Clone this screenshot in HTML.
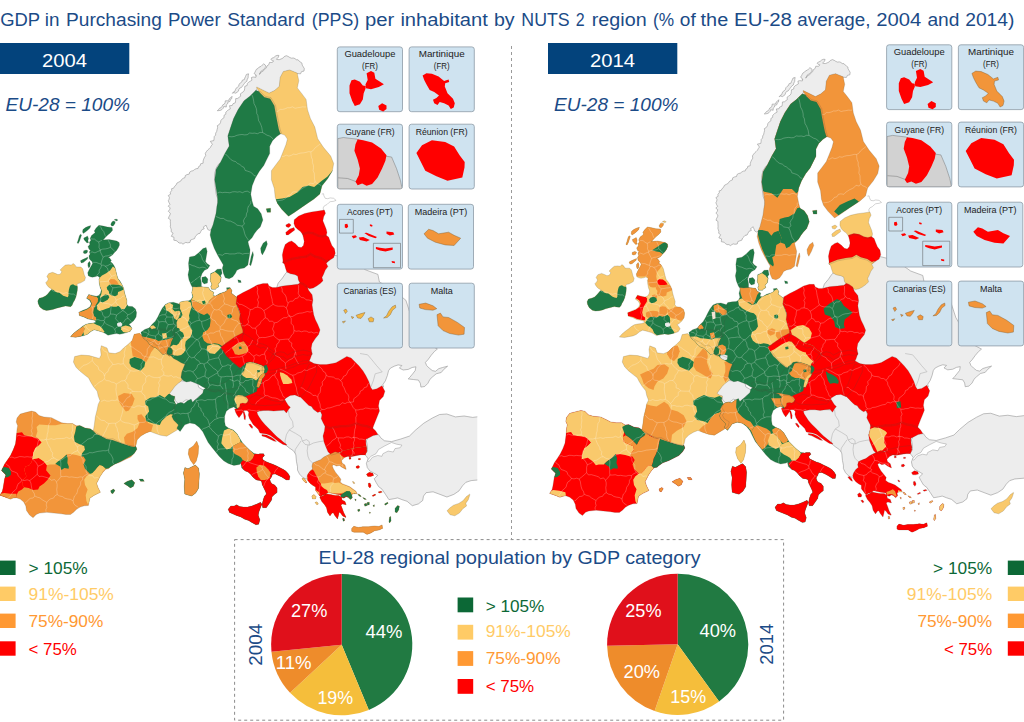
<!DOCTYPE html>
<html><head><meta charset="utf-8"><title>GDP PPS per inhabitant by NUTS 2 region</title>
<style>html,body{margin:0;padding:0;background:#fff;}body{width:1024px;height:722px;overflow:hidden;}svg{display:block;font-family:"Liberation Sans",sans-serif;}</style>
</head><body>
<svg width="1024" height="722" viewBox="0 0 1024 722">
<rect width="1024" height="722" fill="#fff"/>
<text x="0.2" y="26.1" font-size="19.1" fill="#1b4b87" text-anchor="start" textLength="39.9" lengthAdjust="spacingAndGlyphs">GDP</text>
<text x="44.7" y="26.1" font-size="19.1" fill="#1b4b87" text-anchor="start" textLength="14.7" lengthAdjust="spacingAndGlyphs">in</text>
<text x="66.0" y="26.1" font-size="19.1" fill="#1b4b87" text-anchor="start" textLength="95.8" lengthAdjust="spacingAndGlyphs">Purchasing</text>
<text x="167.9" y="26.1" font-size="19.1" fill="#1b4b87" text-anchor="start" textLength="52.7" lengthAdjust="spacingAndGlyphs">Power</text>
<text x="227.3" y="26.1" font-size="19.1" fill="#1b4b87" text-anchor="start" textLength="77.5" lengthAdjust="spacingAndGlyphs">Standard</text>
<text x="311.8" y="26.1" font-size="19.1" fill="#1b4b87" text-anchor="start" textLength="47.4" lengthAdjust="spacingAndGlyphs">(PPS)</text>
<text x="365.0" y="26.1" font-size="19.1" fill="#1b4b87" text-anchor="start" textLength="29.3" lengthAdjust="spacingAndGlyphs">per</text>
<text x="400.4" y="26.1" font-size="19.1" fill="#1b4b87" text-anchor="start" textLength="87.4" lengthAdjust="spacingAndGlyphs">inhabitant</text>
<text x="493.9" y="26.1" font-size="19.1" fill="#1b4b87" text-anchor="start" textLength="20.7" lengthAdjust="spacingAndGlyphs">by</text>
<text x="521.3" y="26.1" font-size="19.1" fill="#1b4b87" text-anchor="start" textLength="48.4" lengthAdjust="spacingAndGlyphs">NUTS</text>
<text x="575.8" y="26.1" font-size="19.1" fill="#1b4b87" text-anchor="start" textLength="8.9" lengthAdjust="spacingAndGlyphs">2</text>
<text x="591.8" y="26.1" font-size="19.1" fill="#1b4b87" text-anchor="start" textLength="54.9" lengthAdjust="spacingAndGlyphs">region</text>
<text x="652.9" y="26.1" font-size="19.1" fill="#1b4b87" text-anchor="start" textLength="21.1" lengthAdjust="spacingAndGlyphs">(%</text>
<text x="679.8" y="26.1" font-size="19.1" fill="#1b4b87" text-anchor="start" textLength="15.9" lengthAdjust="spacingAndGlyphs">of</text>
<text x="700.6" y="26.1" font-size="19.1" fill="#1b4b87" text-anchor="start" textLength="27.6" lengthAdjust="spacingAndGlyphs">the</text>
<text x="734.0" y="26.1" font-size="19.1" fill="#1b4b87" text-anchor="start" textLength="58.0" lengthAdjust="spacingAndGlyphs">EU-28</text>
<text x="797.3" y="26.1" font-size="19.1" fill="#1b4b87" text-anchor="start" textLength="73.2" lengthAdjust="spacingAndGlyphs">average,</text>
<text x="876.2" y="26.1" font-size="19.1" fill="#1b4b87" text-anchor="start" textLength="45.0" lengthAdjust="spacingAndGlyphs">2004</text>
<text x="927.4" y="26.1" font-size="19.1" fill="#1b4b87" text-anchor="start" textLength="32.0" lengthAdjust="spacingAndGlyphs">and</text>
<text x="965.2" y="26.1" font-size="19.1" fill="#1b4b87" text-anchor="start" textLength="49.3" lengthAdjust="spacingAndGlyphs">2014)</text>
<line x1="511.5" y1="46" x2="511.5" y2="539" stroke="#9a9a9a" stroke-width="1" stroke-dasharray="3,3"/>
<rect x="0" y="43" width="129.3" height="31" fill="#03437c"/>
<text x="64.6" y="66.8" font-size="18.3" fill="#fff" text-anchor="middle" textLength="45" lengthAdjust="spacingAndGlyphs">2004</text>
<text x="5.5" y="110.8" font-size="18.0" fill="#1b4b87" text-anchor="start" textLength="124.5" lengthAdjust="spacingAndGlyphs" font-style="italic">EU-28 = 100%</text>
<rect x="548" y="43" width="129.3" height="31" fill="#03437c"/>
<text x="612.6" y="66.8" font-size="18.3" fill="#fff" text-anchor="middle" textLength="45" lengthAdjust="spacingAndGlyphs">2014</text>
<text x="554" y="110.8" font-size="18.0" fill="#1b4b87" text-anchor="start" textLength="124.5" lengthAdjust="spacingAndGlyphs" font-style="italic">EU-28 = 100%</text>
<defs>
<path id="o-ie" d="M60.1,269.9L62.8,267.2L65.3,265.1L68.5,264.7L71.4,265.1L73.0,263.4L75.1,264.9L75.8,266.7L77.8,267.0L80.9,267.0L82.7,268.8L83.6,272.1L84.3,275.0L85.5,277.4L84.6,280.6L82.5,281.8L80.1,283.1L78.0,283.4L77.1,284.6L77.5,287.4L77.3,290.6L76.7,293.6L76.0,296.8L74.7,299.9L73.2,302.6L72.1,305.2L70.6,306.7L67.6,306.3L65.5,305.9L62.5,306.7L59.5,307.4L56.5,308.2L53.5,309.3L50.0,310.1L46.4,310.5L43.1,309.6L39.8,306.9L38.2,303.6L37.8,301.0L39.2,298.3L42.4,297.5L45.4,296.1L47.5,294.3L49.7,291.6L51.4,289.6L52.1,289.3L51.1,288.7L48.7,287.2L46.7,284.7L45.7,282.7L47.4,280.9L48.4,279.0L46.9,276.4L48.7,273.6L52.5,272.3L55.8,273.6L57.9,274.6L59.8,274.3L61.2,273.0L61.7,271.6Z"/><clipPath id="c-ie"><use href="#o-ie"/></clipPath>
<path id="o-gb" d="M116.1,219.0L118.0,220.0L116.6,221.0L114.1,219.7ZM114.9,223.8L113.2,225.9L111.6,225.9L110.7,224.2L112.0,221.7L113.6,220.9L115.3,221.7ZM85.4,232.1L83.3,233.4L82.5,232.1L82.9,229.6L85.4,227.6L88.3,226.3L90.8,225.6L90.0,228.0L87.9,230.1ZM80.6,238.0L79.6,240.9L78.3,243.4L77.1,242.9L78.3,239.6L79.3,235.9L80.4,234.2L81.6,235.0ZM87.0,242.9L85.4,241.3L84.1,239.8L83.7,238.0L85.8,237.0L87.5,235.9L88.5,238.4L87.9,240.9L88.7,242.5ZM87.0,252.9L85.0,253.7L83.3,252.9L83.7,250.8L86.2,250.0L87.9,250.8ZM85.4,260.8L83.3,262.5L81.2,262.9L80.4,260.8L82.5,259.6L85.4,258.3L87.9,257.1L87.5,259.1ZM90.4,263.3L90.0,266.6L88.7,267.9L87.9,265.8L87.9,263.3L89.5,261.2ZM93.7,233.8L95.1,232.4L94.2,230.9L96.1,228.0L98.9,225.3L103.4,226.1L107.5,227.0L112.1,227.4L112.6,230.3L110.3,232.9L107.8,235.0L105.3,237.5L103.8,239.2L103.0,240.1L104.8,239.8L109.1,239.4L113.3,240.3L116.8,241.1L119.2,242.5L119.5,245.1L118.3,247.8L116.6,250.4L114.5,252.5L112.4,255.1L109.8,256.7L108.2,257.2L109.5,257.8L111.4,260.4L110.4,261.9L112.0,262.8L113.7,265.1L115.1,267.7L116.7,274.3L117.8,278.2L120.3,281.5L122.2,284.9L123.7,288.3L124.5,292.5L125.7,296.6L127.0,300.8L126.7,304.1L128.4,306.2L132.4,306.5L135.5,308.9L136.6,312.5L136.1,316.9L133.9,320.5L131.0,323.1L129.0,324.3L130.2,325.5L132.1,328.4L130.1,331.4L126.6,332.6L123.2,333.6L119.8,334.3L116.4,333.6L112.4,334.3L108.0,335.3L105.3,333.5L102.9,332.3L100.4,331.5L97.2,330.6L94.1,329.8L91.0,331.4L87.6,334.2L84.2,335.6L80.0,336.4L75.7,337.3L70.5,336.8L70.5,336.7L73.1,333.8L76.1,331.2L79.5,328.7L82.6,326.2L85.5,324.4L88.9,323.6L93.1,323.1L95.7,322.2L95.2,320.6L92.2,319.8L88.0,319.0L83.8,317.0L79.4,315.6L78.8,312.2L83.0,310.3L87.0,308.8L90.2,306.4L91.2,303.4L89.7,300.5L86.5,298.3L88.7,294.4L92.4,295.4L96.5,296.2L98.7,295.5L100.5,293.2L101.2,290.1L100.0,287.0L99.2,282.8L98.9,279.2L99.8,277.7L98.7,276.7L97.4,276.0L95.0,276.8L92.4,277.2L90.2,276.8L88.2,275.8L87.7,272.8L89.0,270.1L90.3,267.6L91.5,265.5L92.6,263.3L91.9,261.5L90.8,260.4L89.4,259.0L88.9,256.1L90.1,254.1L89.3,252.0L90.4,250.2L89.0,249.2L88.0,246.6L89.8,244.4L89.4,242.3L90.9,240.3L90.1,238.4L91.5,235.5Z"/><clipPath id="c-gb"><use href="#o-gb"/></clipPath>
<path id="o-es" d="M17.7,425.7L16.2,422.1L17.0,418.0L20.2,414.1L25.4,412.6L31.5,411.1L35.5,412.0L39.1,415.6L44.0,417.0L51.5,417.7L57.4,420.7L61.7,422.8L67.4,423.6L72.7,423.6L76.3,425.8L79.9,425.5L85.2,428.0L90.3,428.7L97.0,433.2L102.8,436.9L108.5,438.9L112.9,438.7L117.5,441.2L121.8,443.3L126.2,444.8L131.9,446.0L135.9,446.3L136.9,449.2L134.5,453.1L130.8,456.9L126.3,459.1L120.3,462.1L114.6,464.2L110.3,467.1L108.7,468.6L105.8,469.3L103.0,472.2L100.1,476.5L97.9,480.9L96.6,483.3L98.0,487.4L100.4,492.3L94.0,495.4L89.9,498.2L88.4,505.5L84.3,505.8L80.1,507.1L76.6,509.3L73.6,512.2L70.5,514.5L65.9,514.5L61.4,513.8L54.1,513.1L46.9,512.3L39.6,513.1L36.2,514.4L33.1,517.7L29.6,515.1L26.5,510.5L25.8,506.1L23.7,501.9L20.2,499.1L16.3,497.7L13.3,498.1L10.3,499.2L4.2,496.7L-0.2,495.2L2.3,491.3L3.1,487.8L3.8,483.4L4.5,479.0L5.9,474.9L4.0,472.9L1.5,470.4L3.2,467.1L4.6,464.1L7.6,459.8L10.5,455.4L13.3,449.6L15.5,443.8L16.2,438.0L16.7,432.9L17.0,429.2ZM144.3,481.3L140.6,481.3L139.2,479.1L142.8,479.1ZM130.4,487.9L127.4,485.7L123.8,483.5L127.4,481.3L131.8,479.8L134.8,482.8L133.3,486.4ZM112.8,493.7L111.3,493.0L110.6,490.8L113.5,489.1L115.0,490.5Z"/><clipPath id="c-es"><use href="#o-es"/></clipPath>
<path id="o-fr" d="M132.2,340.4L134.1,334.3L139.7,333.3L143.7,337.3L148.5,340.2L153.3,343.1L157.0,345.8L161.0,344.8L164.2,348.0L166.1,351.9L167.9,353.6L172.6,354.6L177.4,356.6L181.4,358.6L186.7,361.7L184.6,368.0L182.7,374.7L181.7,380.7L177.6,383.8L174.8,386.6L171.9,390.5L169.4,393.8L171.7,395.4L175.0,396.5L174.0,400.6L176.0,404.6L174.1,408.4L177.0,412.3L175.0,416.2L176.8,419.7L181.8,422.7L180.7,427.2L176.6,430.3L171.7,433.2L166.7,436.2L160.7,435.3L154.8,433.3L150.1,431.4L145.6,433.2L140.8,436.1L137.2,439.8L136.2,444.5L134.9,447.0L129.6,445.9L123.8,444.0L117.9,442.0L112.2,440.1L106.3,439.1L101.4,436.1L96.5,434.2L93.3,431.0L94.3,424.9L95.3,417.1L97.2,409.4L98.2,404.4L100.0,400.7L98.2,396.1L97.2,391.3L93.4,386.5L90.5,381.7L88.6,377.9L84.8,375.1L79.9,371.1L76.0,367.2L73.4,362.1L74.6,356.6L81.3,355.0L89.2,355.6L96.1,357.5L99.4,358.4L101.1,355.1L100.5,349.4L101.3,345.7L107.0,347.9L108.8,352.8L115.1,353.6L119.8,351.8L123.6,348.0L128.4,344.1ZM188.3,454.1L188.9,448.9L193.3,445.9L196.7,441.2L196.8,441.2L198.6,446.2L198.2,454.1L196.3,461.1L193.7,464.7L190.3,460.1Z"/><clipPath id="c-fr"><use href="#o-fr"/></clipPath>
<path id="o-de" d="M192.6,285.1L198.3,286.1L203.2,286.9L208.5,287.4L210.2,290.3L213.8,292.2L213.0,295.4L215.5,296.0L219.6,293.5L224.6,291.9L227.0,290.5L226.5,287.8L230.0,287.4L232.1,290.7L231.3,293.1L235.1,296.1L237.7,297.9L238.7,300.8L237.0,304.9L238.7,309.7L240.3,314.7L242.0,319.8L242.8,324.8L244.5,329.9L243.5,334.3L240.8,337.0L236.6,338.7L226.7,343.7L222.7,346.1L222.1,347.3L224.4,351.2L226.9,354.4L230.1,358.6L234.3,362.7L238.5,366.0L241.7,368.4L244.7,370.4L242.7,374.3L240.4,376.5L241.9,379.6L243.7,384.1L240.0,387.0L233.2,388.7L226.5,389.5L220.0,390.3L215.7,392.0L211.3,391.2L207.8,389.4L202.8,386.9L198.7,384.4L194.6,382.8L190.6,381.2L186.4,382.0L182.8,380.3L180.9,377.4L181.8,372.1L183.4,367.9L184.9,364.3L181.2,362.8L177.1,360.3L173.6,358.6L171.2,356.1L168.1,354.4L166.8,350.7L168.0,347.1L169.3,344.6L170.1,341.3L171.9,337.9L173.5,335.4L174.6,333.1L174.6,330.0L173.9,326.7L173.6,322.3L174.7,319.3L176.4,316.6L177.9,313.2L177.6,309.9L178.4,304.7L180.3,301.9L184.8,301.0L188.8,300.7L191.1,299.6L192.6,296.5L191.7,292.5L192.6,289.0Z"/><clipPath id="c-de"><use href="#o-de"/></clipPath>
<path id="o-nl" d="M165.3,304.4L168.9,302.7L173.3,302.3L177.6,303.5L180.1,304.5L179.6,309.9L180.5,313.3L179.0,317.2L177.4,319.9L176.5,322.5L176.8,326.5L177.5,329.9L176.8,333.4L175.3,336.3L173.5,336.3L172.6,332.6L171.2,330.4L169.1,329.6L164.9,330.5L160.7,330.1L157.4,330.5L154.1,329.6L151.4,330.6L149.1,328.3L151.9,324.5L155.3,321.2L157.8,317.1L160.2,312.1L162.4,308.0Z"/><clipPath id="c-nl"><use href="#o-nl"/></clipPath>
<path id="o-be" d="M141.9,335.9L140.9,332.2L144.7,329.4L150.1,327.5L151.8,329.2L154.1,328.4L157.4,329.3L160.7,328.9L164.9,329.3L169.1,328.4L172.0,329.4L173.8,332.2L174.6,335.8L172.9,338.5L171.3,341.7L170.5,345.0L169.3,347.2L170.9,347.8L173.0,350.7L172.2,354.5L169.9,355.4L170.1,355.8L169.7,356.2L166.3,354.0L165.7,353.8L163.0,354.7L160.3,351.9L157.9,349.5L155.5,347.8L153.0,347.0L149.5,344.4L147.0,341.1L143.7,338.6Z"/><clipPath id="c-be"><use href="#o-be"/></clipPath>
<path id="o-se" d="M249.8,96.2L255.8,90.2L260.7,91.9L265.0,96.2L271.0,97.7L275.5,105.3L277.0,114.1L278.4,121.4L279.9,128.5L281.4,133.3L276.8,136.5L272.5,140.8L269.7,146.3L269.7,153.6L266.7,159.6L263.8,165.4L259.4,171.2L255.1,178.5L252.2,185.7L250.8,194.2L252.2,201.4L253.6,206.3L257.7,208.7L261.2,213.8L262.9,220.0L260.3,226.9L257.0,230.3L254.5,233.6L252.0,237.8L248.0,241.8L248.7,244.7L250.1,249.8L249.6,255.0L248.7,260.0L247.9,265.1L244.3,267.9L240.0,268.8L236.9,270.3L235.3,273.5L232.7,277.0L229.1,278.7L225.3,277.8L223.4,273.4L222.3,268.2L223.3,264.9L221.0,261.0L217.7,255.2L214.3,248.4L211.8,241.8L210.1,234.9L211.0,229.7L213.0,224.7L214.3,219.8L216.0,213.2L216.8,206.6L217.6,202.8L217.6,198.6L216.1,188.5L214.7,179.7L216.1,169.3L220.6,161.9L225.0,153.2L229.2,146.1L227.8,135.9L230.7,127.1L233.6,118.4L238.1,109.5L244.0,100.7ZM262.4,254.9L261.1,252.4L260.6,248.2L263.1,243.2L266.4,240.7L267.4,244.1L265.1,249.9ZM252.1,261.5L250.8,265.8L249.5,264.8L251.1,256.5L252.8,251.5L253.5,254.9Z"/><clipPath id="c-se"><use href="#o-se"/></clipPath>
<path id="o-fi" d="M256.4,87.4L256.8,87.0L263.6,90.4L269.1,93.1L274.6,90.4L279.3,86.3L280.1,77.6L283.3,71.5L289.5,69.9L297.2,73.1L298.8,80.7L297.3,87.9L301.6,93.4L306.1,99.4L307.5,109.7L310.4,118.4L314.8,127.1L317.7,138.7L323.4,147.3L330.7,156.1L333.7,163.6L332.3,171.1L327.8,178.5L322.0,185.8L319.9,193.9L314.0,199.1L308.1,202.9L302.3,206.9L294.7,212.2L288.5,216.2L281.7,209.2L277.3,203.2L275.2,197.2L274.3,188.5L271.4,179.8L271.4,170.7L275.9,164.7L280.2,159.0L283.1,151.8L286.0,144.5L287.4,139.0L284.7,135.1L280.2,133.6L278.7,128.9L277.2,121.6L275.8,114.3L274.3,105.7L270.2,98.7L264.4,97.2L259.9,92.8ZM267.1,212.2L266.2,208.8L270.6,208.2L270.6,212.2Z"/><clipPath id="c-fi"><use href="#o-fi"/></clipPath>
<path id="o-dk" d="M189.0,269.8L188.5,263.2L189.5,256.9L194.6,255.9L198.7,252.8L203.0,248.5L206.1,247.4L207.2,251.5L206.3,256.6L205.5,261.4L207.0,263.6L209.9,265.5L207.8,268.7L204.5,270.3L202.1,273.5L200.5,278.1L201.4,283.0L201.4,286.6L196.6,287.1L192.0,286.7L191.1,285.1L189.0,280.0L188.0,274.8ZM210.1,280.7L210.6,277.3L210.6,273.6L214.6,271.8L217.1,269.2L221.2,268.9L222.1,273.3L220.6,275.7L221.3,277.2L220.5,281.8L218.1,284.2L218.9,286.8L216.4,288.1L215.7,289.3L211.6,289.3L211.2,287.8L210.9,287.7L211.0,287.2L210.7,286.1L211.2,286.2L211.8,284.1ZM204.1,284.0L201.9,281.5L201.9,277.3L205.7,276.5L207.9,279.0L207.4,283.1ZM240.7,280.6L241.2,282.5L238.5,282.5L237.8,279.8Z"/><clipPath id="c-dk"><use href="#o-dk"/></clipPath>
<path id="o-ee" d="M293.9,223.4L294.2,219.7L298.7,216.1L304.6,213.5L311.4,211.9L318.0,211.0L324.3,210.1L325.5,213.3L323.7,216.8L322.9,220.7L324.5,224.7L326.2,228.9L327.0,232.4L326.1,236.2L322.3,237.2L317.9,236.3L312.9,233.9L308.1,233.0L302.9,234.8L300.2,231.2L297.8,229.6L295.2,226.9ZM289.0,227.4L286.5,226.9L285.7,224.9L289.0,223.3L291.2,224.9ZM288.2,234.9L286.2,234.9L285.7,232.4L289.8,229.1L294.0,227.4L294.8,229.9L291.5,232.4Z"/><clipPath id="c-ee"><use href="#o-ee"/></clipPath>
<path id="o-lv" d="M302.4,233.7L308.1,231.8L313.3,232.7L318.3,235.1L322.3,236.0L325.7,235.0L328.6,237.0L330.3,241.4L331.9,245.4L334.5,248.7L335.3,253.3L333.6,257.8L326.4,262.2L321.2,258.8L314.6,257.1L310.6,254.7L306.7,257.1L299.9,258.0L291.7,259.6L282.9,263.2L282.9,259.9L282.3,254.9L283.4,249.7L285.2,244.5L288.7,241.9L291.6,240.9L295.2,243.6L298.5,246.9L301.3,247.5L303.4,245.4L304.2,241.6L303.4,237.5Z"/><clipPath id="c-lv"><use href="#o-lv"/></clipPath>
<path id="o-lt" d="M282.5,262.1L291.3,258.4L299.7,256.8L306.3,255.9L310.6,253.3L315.0,255.9L321.6,257.6L326.4,260.8L328.9,259.7L329.3,260.3L326.3,263.3L327.9,266.6L325.3,270.1L323.6,274.3L322.0,277.4L323.0,280.8L320.2,283.6L316.7,286.1L313.3,287.9L309.7,288.7L306.2,287.0L302.8,284.5L300.2,283.6L298.4,280.0L297.7,276.0L294.6,274.6L290.5,273.8L286.8,271.9L285.6,268.4L284.4,264.3Z"/><clipPath id="c-lt"><use href="#o-lt"/></clipPath>
<path id="o-pl" d="M236.9,296.1L243.0,292.6L249.6,289.3L257.2,285.0L263.1,283.4L267.8,283.4L269.0,286.0L272.5,287.5L276.4,287.5L283.1,285.9L291.4,285.0L298.0,284.2L300.5,282.4L303.4,283.5L307.0,286.1L308.6,290.3L312.1,294.8L312.9,300.0L312.1,305.0L312.9,309.9L313.7,314.8L315.4,319.7L317.8,324.6L320.0,329.9L318.6,334.4L315.3,338.6L312.1,343.4L311.2,348.2L312.2,354.5L307.3,355.4L303.1,354.6L299.1,355.4L294.2,356.3L291.0,357.8L287.2,359.7L283.7,357.1L279.8,356.3L276.3,355.4L272.9,353.7L270.3,352.0L267.0,349.5L264.0,347.2L260.6,348.0L257.1,346.2L254.0,343.8L249.8,344.6L246.3,342.4L241.8,340.2L243.0,334.9L242.7,330.0L241.0,325.1L239.4,319.1L240.2,313.4L238.5,308.5L236.0,303.4L236.9,297.5Z"/><clipPath id="c-pl"><use href="#o-pl"/></clipPath>
<path id="o-hu" d="M257.4,371.0L262.0,370.4L268.0,370.4L274.9,369.9L282.8,367.4L289.8,365.4L296.8,362.9L302.9,360.9L308.1,360.4L312.3,362.5L316.6,365.7L316.6,372.1L308.5,388.3L304.4,393.4L300.1,397.2L294.9,394.9L290.2,395.4L285.4,398.4L283.5,401.4L280.3,404.6L265.0,405.6L251.7,404.6L246.6,399.4L243.6,395.8L247.2,394.0L252.1,392.0L255.5,390.1L256.9,386.8L257.4,382.8L258.8,380.0L257.4,376.1Z"/><clipPath id="c-hu"><use href="#o-hu"/></clipPath>
<path id="o-cz" d="M220.7,347.2L225.8,343.2L230.9,339.7L235.3,336.6L239.0,334.7L242.7,332.8L245.8,334.7L249.0,336.6L252.7,339.1L256.4,341.7L260.1,343.5L263.8,344.4L267.1,345.9L270.3,349.4L273.4,351.4L275.5,354.2L274.1,357.7L264.4,367.5L260.3,366.1L257.2,364.9L253.5,363.6L249.9,363.0L247.1,363.6L244.7,366.0L241.9,368.0L239.0,367.4L235.8,364.8L232.7,362.2L229.6,359.1L226.3,355.9L223.8,352.1L222.0,349.6Z"/><clipPath id="c-cz"><use href="#o-cz"/></clipPath>
<path id="o-sk" d="M264.8,364.0L267.5,361.1L270.7,357.8L272.5,354.7L277.7,352.6L279.8,351.7L284.3,352.6L287.4,355.0L290.4,353.5L293.8,351.7L298.9,350.9L303.1,350.1L307.5,350.9L312.3,352.9L310.4,358.4L308.5,362.8L303.2,363.8L298.4,364.6L293.4,367.1L288.4,368.7L278.3,372.1L273.3,372.9L269.2,373.7L264.7,374.7L262.3,371.7L262.3,366.8L264.4,366.3Z"/><clipPath id="c-sk"><use href="#o-sk"/></clipPath>
<path id="o-at" d="M204.1,383.8L208.1,381.8L212.6,382.6L216.7,384.3L221.4,383.5L226.2,381.9L229.6,378.6L233.5,376.9L235.2,373.0L237.8,369.4L241.0,367.9L241.3,367.0L243.9,365.0L246.5,362.4L249.9,361.8L253.7,362.4L257.6,363.7L261.3,364.9L264.1,366.4L264.8,369.3L264.2,372.8L265.6,374.2L264.1,377.1L262.3,378.9L261.7,381.9L260.4,385.1L258.9,388.1L257.5,387.5L256.6,391.5L252.6,393.6L247.6,395.4L245.0,396.7L241.1,396.0L237.0,396.0L234.3,398.1L231.2,395.4L226.4,393.8L221.3,393.0L218.1,390.5L214.1,391.3L209.7,390.5L206.1,388.6Z"/><clipPath id="c-at"><use href="#o-at"/></clipPath>
<path id="o-si" d="M223.3,396.3L226.9,394.1L230.9,393.5L234.8,394.1L237.3,394.7L242.5,395.4L246.5,397.4L248.6,400.3L247.8,403.9L244.4,405.4L241.5,405.9L240.9,408.5L236.7,409.3L236.1,405.9L233.3,405.4L229.4,405.4L226.1,403.4L224.0,400.6Z"/><clipPath id="c-si"><use href="#o-si"/></clipPath>
<path id="o-hr" d="M244.2,419.3L243.7,415.1L243.0,412.1L242.6,412.8L241.1,415.0L239.0,417.7L237.0,414.9L235.6,412.2L234.6,408.9L237.7,408.3L239.5,407.0L240.1,403.7L242.7,403.1L245.2,403.6L246.9,402.7L248.4,400.2L251.6,397.0L256.1,394.8L260.5,395.8L264.7,397.9L270.9,400.0L275.0,401.0L279.0,401.5L282.5,401.5L284.9,399.7L286.8,402.9L288.4,405.4L290.4,407.2L288.4,409.7L286.4,413.0L283.9,410.0L279.1,410.5L273.8,411.1L268.6,410.5L263.4,410.5L259.4,411.1L256.9,411.9L257.8,414.8L259.8,417.9L261.9,421.0L264.9,424.6L271.1,430.8L274.2,434.0L277.3,437.1L280.5,439.6L283.6,442.2L286.7,444.6L286.4,445.3L283.0,444.4L278.7,441.7L274.5,438.6L270.4,435.5L266.4,434.0L262.8,433.5L259.9,432.9L258.3,429.5L255.8,427.0L253.1,424.4L251.0,421.1L249.4,418.5L248.3,415.1L248.8,412.2L247.1,410.5L244.0,410.5L243.8,410.4L243.9,410.5L243.2,411.7L244.2,411.5L245.6,416.2L245.3,419.8ZM252.2,428.6L250.5,427.1L248.7,424.3L250.5,424.0L252.8,427.1ZM265.5,436.9L261.9,435.9L261.9,434.4L266.6,434.9L270.7,436.9L273.8,439.0L276.4,441.6L273.8,441.1L269.7,439.0Z"/><clipPath id="c-hr"><use href="#o-hr"/></clipPath>
<path id="o-it" d="M237.6,408.7L237.1,409.3L233.8,407.0L229.7,408.6L226.3,411.2L224.6,416.3L224.6,421.5L225.4,425.8L228.8,428.3L233.3,430.1L237.1,433.8L239.8,438.4L242.5,442.8L246.0,446.4L249.6,450.0L254.0,453.4L258.2,454.3L259.8,453.8L263.6,453.8L264.5,455.6L262.3,457.9L263.2,460.1L266.3,461.7L270.1,463.3L273.4,464.4L276.8,466.1L280.1,467.8L283.5,469.4L285.8,471.1L288.1,473.4L289.9,476.5L289.2,480.0L286.3,480.0L284.5,478.8L281.7,477.1L278.4,475.4L275.3,473.9L272.5,474.3L271.5,476.9L269.9,479.5L270.5,481.8L271.9,483.8L274.7,485.0L277.1,488.0L277.1,492.4L274.7,494.3L272.1,496.8L271.6,500.1L269.3,503.5L266.3,507.7L262.7,507.7L262.1,504.3L263.2,499.7L264.4,496.2L266.4,494.1L265.4,491.2L263.8,488.0L262.1,484.5L261.6,481.4L259.7,480.5L256.3,480.0L252.8,477.0L250.6,474.2L248.0,472.1L245.2,471.0L241.7,468.0L240.7,463.3L239.6,464.5L233.9,465.4L228.2,463.5L223.6,460.8L219.1,456.2L211.8,447.2L208.2,442.6L205.5,437.2L202.8,431.8L199.3,427.4L194.9,424.0L189.8,423.1L184.8,424.8L180.1,431.5L176.8,428.2L178.4,424.9L176.3,422.7L173.7,420.2L171.8,416.5L173.6,413.1L172.7,409.7L174.5,406.1L177.2,403.5L180.8,402.6L184.0,403.4L187.2,401.0L191.1,399.1L192.6,402.2L194.5,400.2L197.9,397.7L202.8,392.9L203.6,389.5L206.6,387.5L210.1,389.3L214.1,390.1L218.3,389.3L221.7,391.8L226.6,392.6L231.8,394.4L234.7,397.2L233.8,400.7L234.6,404.6ZM184.7,479.2L183.4,472.9L184.9,467.6L188.0,468.7L195.3,465.0L198.5,468.1L199.4,473.8L199.0,481.0L198.5,488.4L195.7,493.1L191.7,496.1L187.8,495.1L184.7,494.0L184.2,486.4ZM232.5,513.8L229.5,512.5L228.2,509.2L230.8,505.9L234.3,505.9L236.6,504.7L239.6,506.5L243.3,507.0L247.6,507.0L251.9,505.9L256.4,504.2L260.6,502.2L261.9,504.2L260.5,507.8L258.8,512.2L258.3,515.3L259.9,519.8L258.7,524.2L255.9,524.8L251.8,522.5L248.5,520.4L244.7,519.3L240.8,517.0L236.4,515.4Z"/><clipPath id="c-it"><use href="#o-it"/></clipPath>
<path id="o-ro" d="M308.7,364.7L313.9,363.6L319.9,364.6L326.4,364.6L332.3,363.6L336.0,362.7L340.8,359.9L346.8,356.4L351.1,357.9L355.1,361.9L358.9,365.8L362.9,370.7L365.8,375.6L368.8,381.5L370.7,387.2L372.4,389.7L376.8,388.8L382.0,385.7L384.9,391.3L383.3,396.5L379.5,400.4L378.5,405.9L379.5,410.9L377.6,415.8L375.6,420.7L373.7,425.5L372.5,429.0L367.1,426.9L361.2,425.9L356.6,424.0L351.9,425.9L346.0,426.9L340.2,426.9L334.4,427.9L329.3,428.8L325.2,426.7L323.1,422.7L321.1,418.6L322.1,414.8L320.4,411.5L317.7,412.4L313.5,409.2L311.6,406.4L308.8,405.5L305.8,402.5L302.9,399.5L296.8,393.4L298.9,389.1L301.8,385.3L303.6,380.5L305.6,374.7L306.5,369.9Z"/><clipPath id="c-ro"><use href="#o-ro"/></clipPath>
<path id="o-bg" d="M325.1,425.4L329.5,427.6L334.2,426.7L340.0,425.7L345.8,425.7L351.5,424.7L356.6,422.8L361.6,424.7L367.5,425.7L372.4,427.7L375.5,430.7L378.0,434.4L373.3,435.6L369.5,437.5L365.9,439.3L365.9,443.6L366.9,448.7L363.8,453.0L359.7,455.0L354.8,456.0L349.7,456.9L344.7,454.9L340.0,452.2L335.5,454.0L331.2,455.1L328.0,451.8L325.9,446.9L324.0,442.0L323.0,436.0L324.4,431.0Z"/><clipPath id="c-bg"><use href="#o-bg"/></clipPath>
<path id="o-gr" d="M348.9,457.5L350.8,457.2L351.1,458.9L349.3,459.3ZM358.4,459.8L358.4,458.6L360.5,458.6L360.3,459.8ZM356.2,466.2L358.4,465.5L359.8,466.9L358.1,468.4L356.2,467.9ZM310.0,470.9L312.1,469.3L312.6,468.9L311.9,466.2L312.8,462.9L316.7,461.2L320.2,459.9L323.9,457.0L328.3,454.8L332.0,453.3L335.1,451.8L339.4,453.1L342.1,451.0L348.1,449.6L353.9,448.1L366.1,446.6L367.0,451.0L365.3,454.9L354.1,454.9L348.4,455.9L344.2,457.7L343.6,458.6L341.6,460.6L342.1,463.0L345.0,465.1L346.2,469.3L346.0,469.4L342.1,467.4L339.4,465.4L336.4,466.1L333.7,464.7L332.2,465.7L333.4,468.8L335.6,472.4L338.5,476.0L340.9,479.2L340.2,482.0L342.7,483.9L346.2,485.2L349.9,486.8L352.9,489.0L356.0,491.2L357.1,493.7L353.5,493.7L351.8,494.8L352.5,497.7L350.4,499.7L347.9,497.2L346.1,496.7L343.9,498.2L341.5,497.3L342.1,500.0L345.0,501.4L346.2,504.8L346.2,504.8L342.5,503.9L340.9,504.9L342.2,508.2L343.7,512.5L346.0,517.1L345.7,517.4L342.7,516.1L340.5,513.1L339.1,512.3L338.6,515.0L337.6,519.0L337.5,519.0L334.6,515.2L333.3,512.7L331.9,513.2L330.0,516.0L327.5,512.2L326.5,507.8L324.4,504.4L321.8,501.4L319.7,497.2L323.3,495.5L327.0,493.9L331.6,494.7L335.2,495.4L338.9,495.4L341.0,496.9L340.4,494.7L335.0,494.1L331.4,493.3L328.2,492.5L325.9,494.4L322.9,495.1L320.4,496.8L317.9,493.5L315.6,490.4L315.6,486.9L313.0,485.6L310.0,483.3L307.6,480.3L306.9,477.1L307.7,474.6ZM303.8,478.1L306.0,480.7L306.7,482.9L305.3,482.5L303.4,480.7L301.9,478.5ZM353.3,483.3L352.5,481.5L354.0,481.9L354.7,483.6ZM357.6,493.8L359.8,494.5L361.3,496.7L359.1,496.0ZM311.8,496.0L314.0,494.5L316.2,496.7L315.5,498.9L312.5,498.9ZM356.2,499.6L355.7,501.1L354.7,498.9ZM316.9,504.7L315.0,502.5L316.9,501.8L318.4,504.0ZM358.1,511.6L357.6,509.8L359.5,509.1L359.8,511.0ZM343.1,521.2L342.7,518.5L344.1,518.5L344.5,520.7ZM372.9,473.2L373.6,475.6L370.7,476.4L367.8,476.4L366.4,474.2L369.3,472.3ZM368.3,483.3L370.0,482.9L371.2,485.8L370.0,488.0L368.5,486.5ZM379.5,493.1L378.0,492.1L380.9,491.2L382.4,492.1ZM372.2,495.6L375.1,494.1L375.8,495.0L372.9,496.4ZM364.2,499.3L362.7,497.5L364.9,498.2L366.4,499.6ZM367.4,505.2L367.1,502.5L369.3,502.3L369.3,504.7ZM384.5,504.0L387.5,502.3L388.2,503.3L385.3,505.2ZM364.9,506.2L364.2,504.0L366.4,503.3L367.1,505.5ZM374.4,504.7L374.1,506.9L372.9,505.5ZM397.6,505.5L399.4,506.2L398.8,509.8L396.9,512.7L395.0,512.0L395.0,508.4ZM370.7,512.7L369.7,513.5L369.3,512.0ZM389.6,517.1L390.7,516.4L391.1,520.7L389.6,522.9L388.9,521.5ZM371.0,532.9L367.0,534.5L363.3,532.2L353.9,532.2L351.7,531.3L351.7,528.5L353.8,526.3L358.4,527.4L362.7,526.7L368.5,526.7L374.4,525.9L378.6,526.4L382.1,524.9L382.6,528.4L378.9,530.1L374.6,530.8Z"/><clipPath id="c-gr"><use href="#o-gr"/></clipPath>
<path id="o-cy" d="M447.0,510.7L450.0,507.8L453.5,505.2L458.7,503.4L462.9,500.8L466.4,496.6L469.6,494.2L470.0,494.5L468.2,499.9L465.8,503.2L466.6,505.9L462.9,508.7L459.4,513.1L454.8,515.8L450.1,514.8Z"/><clipPath id="c-cy"><use href="#o-cy"/></clipPath>
<g id="greys"><path fill-rule="evenodd" d="M273.5,61.2L272.1,62.5L269.5,62.4L268.8,64.7L267.0,65.9L266.2,68.1L264.5,69.4L263.1,71.2L261.0,72.0L260.0,74.0L259.0,74.1L260.0,73.6L260.5,71.7L261.7,70.8L263.1,69.9L264.2,68.8L265.2,67.6L265.9,66.2L265.0,64.7L263.5,63.9L262.2,65.1L261.0,66.4L259.2,67.0L258.1,68.4L256.5,69.2L255.7,70.6L255.0,72.2L254.0,73.5L255.5,74.4L255.8,76.0L256.3,75.6L255.9,77.3L253.2,77.0L251.4,77.5L251.9,80.2L250.3,81.2L248.6,82.2L247.3,83.6L247.1,85.5L244.8,86.3L244.7,88.3L244.4,90.2L243.5,91.6L242.0,92.7L240.4,93.8L240.7,96.2L239.1,97.3L237.8,98.4L235.7,98.6L235.6,100.8L235.2,102.9L233.0,103.7L232.2,105.5L229.5,105.7L230.3,108.9L228.4,109.8L227.2,111.0L225.8,112.2L225.8,114.2L224.0,115.3L224.0,117.7L222.3,118.8L220.9,120.5L220.5,122.6L219.4,124.4L217.4,125.6L217.6,127.7L217.1,129.5L216.7,131.4L215.7,133.1L215.6,135.1L214.2,136.6L214.1,138.6L213.8,140.6L210.3,141.3L212.4,144.3L211.2,145.9L210.4,147.5L209.1,148.8L207.7,150.0L206.4,151.6L205.3,153.3L205.7,155.5L204.6,157.2L203.7,159.1L203.1,161.0L203.1,163.2L200.6,163.8L200.2,165.7L198.7,166.5L198.0,168.5L196.1,168.7L194.6,169.5L193.1,170.7L191.3,171.1L189.7,172.1L189.2,174.1L187.0,174.6L185.3,175.5L185.0,177.6L183.2,178.3L181.7,179.4L180.7,181.1L178.8,182.1L176.9,183.1L176.0,185.2L174.5,186.4L173.6,188.2L171.6,188.7L171.7,190.6L170.3,192.2L170.5,194.2L168.3,195.5L169.4,197.5L169.1,199.2L168.3,200.7L169.0,202.6L170.0,204.3L168.2,206.2L170.2,207.8L169.6,209.6L168.3,211.3L170.3,213.2L170.0,214.9L169.0,216.6L168.4,218.4L170.4,219.7L170.3,221.4L170.4,223.1L170.5,224.8L170.3,226.6L170.8,228.2L171.3,229.9L171.1,231.7L173.1,233.1L171.3,236.3L174.0,237.3L173.8,240.2L176.6,240.7L178.0,242.2L179.6,243.1L181.5,243.1L183.0,244.2L184.4,243.2L185.8,242.4L187.6,242.8L189.9,242.5L190.6,240.0L192.6,239.3L194.6,238.6L195.3,236.5L196.7,235.2L197.8,233.8L199.9,233.4L200.7,231.7L201.9,229.6L204.2,228.8L203.4,226.9L205.5,225.6L205.9,225.0L206.3,225.9L207.1,227.7L207.7,229.4L209.2,230.3L209.8,230.3L214.1,227.7L214.7,222.1L216.7,216.6L218.8,211.1L217.6,205.6L218.2,199.7L216.2,194.2L215.3,187.5L214.7,180.5L214.7,173.5L216.2,168.0L218.8,163.9L223.1,162.5L226.3,159.6L225.2,155.5L227.8,150.0L229.8,146.2L228.4,136.0L231.3,127.3L234.2,118.6L238.6,109.8L244.4,101.1L250.2,96.7L256.0,90.9L257.5,88.0L263.3,90.9L269.1,93.8L274.9,90.9L279.9,86.6L280.7,77.8L283.7,72.0L289.5,70.5L296.7,73.5L300.5,73.8L301.6,71.6L304.0,71.1L304.3,68.6L303.1,66.5L302.2,65.1L302.0,63.2L300.5,62.1L299.2,61.2L298.1,59.8L296.2,59.7L295.0,58.6L293.3,58.0L291.5,58.2L289.8,57.5L288.1,56.4L286.3,55.7L284.2,56.6L282.8,58.2L281.0,59.0L279.2,59.7L277.0,59.5L276.6,59.4L277.1,58.5L278.4,57.2L278.9,55.4L277.0,55.4L275.3,56.2L273.9,57.5L272.1,58.1L270.8,59.4L273.1,61.2L273.6,60.9ZM237.1,92.2L238.4,91.2L238.9,89.4L239.8,88.1L241.5,87.4L242.5,86.1L243.4,84.8L244.4,83.5L245.4,82.2L246.8,81.3L247.2,79.6L248.1,77.8L248.2,75.8L248.6,73.8L246.4,74.4L245.5,76.5L244.8,78.0L244.3,79.6L242.3,80.2L241.9,81.9L240.3,82.9L239.2,84.2L238.7,86.1L237.4,87.3L236.1,88.2L235.4,89.7L234.9,91.3L233.3,92.1L232.4,93.3L233.9,92.6L235.7,93.2ZM223.2,108.2L223.7,106.5L226.3,107.0L226.3,104.8L227.6,103.8L228.0,101.9L229.9,101.5L230.4,99.7L231.7,98.7L232.0,96.3L231.0,97.6L229.6,98.4L229.0,100.0L227.5,100.8L225.3,100.8L225.1,102.7L224.3,104.1L222.8,104.8L222.1,106.2L221.2,107.6L219.5,108.3L218.6,109.6L217.3,110.7L219.1,110.6L220.9,110.2L222.2,109.3ZM175.3,400.7L178.2,403.6L182.1,402.7L186.0,399.8L189.8,400.7L193.7,403.6L195.7,399.8L199.5,395.9L203.4,394.9L206.3,392.0L203.4,390.1L198.6,387.2L197.6,382.3L193.7,379.4L187.9,381.4L181.1,380.8L177.2,383.3L174.3,386.2L171.4,390.1L168.5,394.0L171.4,395.9L174.3,396.9ZM298.2,284.8L300.0,283.5L300.0,395.0L370.0,395.0L383.5,387.1L382.9,384.6L385.4,380.8L387.3,375.7L388.6,370.6L390.5,368.1L394.3,366.2L398.1,364.9L401.9,365.5L399.4,368.1L403.2,370.0L408.2,369.4L412.1,367.5L415.9,366.8L415.2,370.6L412.7,373.8L410.1,377.0L408.2,378.9L413.3,379.5L418.4,380.1L420.3,383.3L420.9,387.1L424.7,386.5L427.9,383.3L429.8,379.5L432.4,377.0L436.2,373.8L441.2,372.5L443.8,369.4L447.6,366.2L442.5,367.5L438.7,368.7L435.5,371.3L432.4,370.6L429.2,368.1L426.6,365.5L425.4,362.4L427.9,359.8L431.1,355.4L434.3,351.6L437.4,349.0L430.0,345.0L420.5,332.3L411.4,317.1L405.9,300.3L393.1,289.7L379.4,282.0L377.9,274.4L365.7,269.9L350.5,259.2L332.0,254.6L300.0,254.6L300.0,281.9L299.0,279.8L298.2,275.6L294.8,274.0L290.7,273.2L287.3,271.8L285.7,273.2L282.4,278.1L278.2,283.1L276.5,288.1L279.0,287.3L283.2,286.5L291.5,285.6ZM287.1,409.8L283.6,410.5L278.8,410.2L273.3,409.8L267.7,409.8L262.2,410.5L257.3,411.2L255.9,413.9L258.0,417.4L260.8,421.6L264.9,426.4L269.1,431.3L273.3,435.4L277.4,438.9L281.6,441.7L285.0,444.4L289.2,447.9L293.3,450.7L295.4,453.4L295.9,455.3L296.5,461.8L297.5,466.7L297.5,470.1L299.6,474.2L303.0,477.7L306.5,479.1L308.6,477.0L311.3,474.2L313.4,470.1L313.2,469.1L313.3,469.1L313.1,468.5L312.7,465.9L313.0,464.4L313.3,463.3L316.9,461.8L320.5,460.4L324.2,457.5L328.5,455.3L333.6,453.1L330.7,444.4L324.9,440.0L324.8,440.0L324.5,439.6L323.8,435.4L325.9,432.6L327.3,428.5L325.2,424.3L323.1,419.5L321.7,414.6L321.0,409.8L316.2,411.2L313.4,409.4L311.3,405.6L307.9,402.9L304.4,400.1L301.7,396.6L297.5,393.9L292.6,393.9L287.8,395.9L284.3,399.4L285.7,403.6L287.8,407.0ZM367.3,451.1L364.7,454.6L366.4,456.3L368.2,458.9L366.4,463.3L367.3,467.6L369.9,471.0L373.4,472.8L377.7,475.4L374.2,478.8L376.0,482.3L378.6,486.6L382.0,489.2L385.5,494.4L388.9,499.6L394.1,498.7L397.6,497.9L401.9,499.6L407.1,501.3L412.3,505.7L418.4,503.9L422.7,500.5L423.5,496.1L426.1,492.7L433.1,491.8L440.0,494.4L446.9,497.0L453.8,494.4L459.0,490.9L462.5,485.8L465.9,482.3L471.1,480.6L481.0,479.7L481.0,430.4L481.3,416.3L472.7,417.4L464.1,416.0L455.4,416.9L446.8,414.0L439.6,414.5L432.4,418.0L423.8,423.2L415.2,430.4L409.4,436.1L400.8,439.0L391.5,441.6L384.6,440.8L381.1,438.2L378.6,434.7L372.5,434.7L368.2,437.3L366.4,440.8L367.3,446.0Z"/></g><clipPath id="clip04"><rect x="0" y="0" width="477.3" height="722"/></clipPath>
<g id="whites"><path d="M367.3,460.7L370.8,456.3L376.0,453.7L378.6,449.4L384.6,446.0L391.5,442.5L396.7,444.2L401.9,445.1L400.2,447.7L395.0,448.6L393.3,452.0L388.1,451.1L382.9,453.7L382.0,456.3L377.7,455.5L372.5,457.2L369.0,461.5Z"/></g>
<g id="rlines" fill="none" stroke="#fff" stroke-opacity="0.55" stroke-width="0.45"><path d="M173.0,357.0L174.2,355.3L174.2,352.5L176.2,350.6M184.3,363.4L184.4,362.9L186.5,361.1L187.8,358.6L189.3,356.3M176.2,350.6L178.5,349.0L181.3,348.6M181.3,348.6L184.0,349.7L186.4,351.2M189.3,356.3L187.6,353.9L186.4,351.2M197.4,378.6L195.9,380.7L195.9,382.6M197.4,378.6L196.0,376.2L194.3,374.0L192.8,371.8M192.8,371.8L190.3,370.8L187.8,370.8L185.2,371.7L183.1,370.4M169.1,346.4L169.5,347.0L172.1,347.5L173.7,349.7L176.2,350.6M191.0,300.3L192.1,301.6M178.5,313.0L179.3,313.2M179.3,313.2L181.5,311.5L183.9,310.3L186.5,309.3L188.5,307.4L191.3,306.8M192.1,301.6L192.3,304.3L191.3,306.8M202.9,287.5L203.6,289.7L202.6,292.5L203.1,294.9L204.1,297.3L204.9,299.7M192.1,301.6L194.7,301.4L197.2,300.9L199.7,300.1L202.5,300.9L204.9,299.7M196.9,339.6L194.9,341.3L193.2,343.3L191.5,345.3L189.5,346.9L188.0,349.1L186.4,351.2M197.5,339.7L197.2,339.2L196.9,339.6M197.5,339.7L199.4,342.5L199.9,345.9L201.5,348.8M189.3,356.3L191.6,357.9L194.3,357.2M194.3,357.2L195.9,354.9L197.8,353.0L200.1,351.2L201.5,348.8M192.8,371.8L195.0,370.1L196.8,367.9L197.8,364.9L200.4,363.5M194.3,357.2L196.1,359.5L198.8,360.9L200.4,363.5M200.4,363.5L202.2,363.3L204.0,364.1M197.4,378.6L200.0,378.0L202.4,376.7L205.0,376.0M205.0,376.0L205.2,373.0L206.2,369.9L204.6,367.0L204.0,364.1M180.9,338.2L179.0,335.2L176.4,332.6M180.9,338.2L183.9,337.4L187.0,337.3L190.1,336.8L193.2,337.1M176.4,332.6L178.5,331.2L180.7,329.8L183.0,328.9L185.4,328.0L187.5,326.5L190.0,325.8M193.2,337.1L191.7,334.5L190.9,331.7L191.1,328.6L190.0,325.8M181.3,348.6L181.2,346.0L181.7,343.4L181.6,340.8L180.9,338.2M175.2,332.6L176.4,332.6M196.9,339.6L194.9,338.6L193.2,337.1M191.0,323.6L189.8,321.1L186.7,320.6L185.4,318.2L182.8,317.2L180.8,315.5L179.3,313.2M191.0,323.6L190.4,324.7L190.0,325.8M234.2,306.7L232.6,309.2L232.3,312.4L229.8,314.6L229.1,317.6M234.2,306.7L230.9,306.2L227.9,304.8L224.7,304.0M224.7,304.0L222.6,305.7L220.6,307.5L218.8,309.6M218.8,309.6L221.6,311.0L222.4,314.4L224.9,316.1L227.2,317.9M229.1,317.6L228.2,318.0L227.2,317.9M242.0,323.4L241.5,323.7L238.9,323.4M236.6,305.5L236.5,305.7L234.2,306.7M238.9,323.4L237.1,321.0L234.2,320.2L231.6,319.0L229.1,317.6M222.8,293.1L222.8,293.4L223.5,296.0L224.5,298.6L223.6,301.4L224.7,304.0M233.7,331.3L231.0,331.2L228.3,331.1L225.6,330.6L223.0,329.6L220.4,329.2M238.9,323.4L236.8,325.7L234.9,328.3L233.7,331.3M227.2,317.9L225.4,320.1L224.3,322.8L222.4,324.9L220.4,326.9M220.4,329.2L219.9,328.0L220.4,326.9M197.5,339.7L200.2,337.7L202.4,335.2L205.6,334.1M212.6,346.3L211.6,344.0L210.9,341.5L209.4,339.3L208.7,336.9L207.5,334.6M212.6,346.3L210.3,349.0L207.4,350.8M201.5,348.8L204.7,349.1L207.4,350.8M205.6,334.1L206.6,334.0L207.5,334.6M214.3,309.5L212.6,312.0L211.5,314.7L210.9,317.6M214.3,309.5L212.5,307.6L211.7,305.0L209.6,303.3M209.6,303.3L209.2,303.4L208.8,303.1M208.8,303.1L206.1,304.4L204.2,306.7L202.4,309.0L199.7,310.4L197.8,312.6M210.9,317.6L208.0,319.3L204.9,320.6L201.6,321.4M197.8,312.6L199.1,315.0L198.8,317.8L199.5,320.3M199.5,320.3L200.6,320.9L201.6,321.4M220.4,326.9L218.5,325.1L216.4,323.4L215.2,320.8L212.6,319.7L210.9,317.6M218.8,309.6L216.5,310.0L214.3,309.5M216.2,296.2L215.8,297.4L213.5,299.1L211.2,300.9L209.6,303.3M204.9,299.7L206.9,301.4L208.8,303.1M191.3,306.8L192.9,309.4L196.1,310.1L197.8,312.6M219.4,330.9L216.3,331.5L213.5,333.1L210.2,333.0L207.5,334.6M219.4,330.9L219.8,330.0L220.4,329.2M205.6,334.1L205.4,331.4L203.7,329.2L202.5,326.7L201.9,324.1L201.6,321.4M191.0,323.6L193.7,322.2L196.5,320.9L199.5,320.3M207.6,388.7L208.6,387.6L209.8,385.3M205.0,376.0L206.3,377.9L208.5,378.1M209.8,385.3L208.2,381.8L208.5,378.1M208.5,378.1L210.8,376.7L213.1,375.4L215.4,374.0L217.7,372.8M217.7,372.8L217.6,372.4L217.8,372.1M204.0,364.1L205.7,363.1L207.6,362.4M217.8,372.1L216.1,369.8L213.5,368.4L211.6,366.3L209.6,364.3L207.6,362.4M207.4,350.8L207.9,353.9L208.6,357.0L209.1,360.1M209.1,360.1L207.9,360.9L207.6,362.4M221.1,376.9L220.8,379.8L220.3,382.6L220.1,385.5M221.1,376.9L223.9,376.8L226.7,376.3L229.4,376.4L232.2,376.8M232.2,376.8L232.8,376.6L232.6,377.2M232.6,377.2L232.6,379.8L233.2,382.4L233.5,385.0L232.9,387.6L232.9,388.1M223.1,389.3L222.1,387.4L220.1,385.5M209.8,385.3L212.4,384.7L214.9,385.3L217.5,385.7L220.1,385.5M217.7,372.8L218.4,375.7L221.1,376.9M240.9,375.2L239.9,375.2L237.4,375.3L234.9,375.9L232.6,377.2M230.9,365.7L227.9,364.7L225.2,366.0L222.4,366.5M230.9,365.7L232.6,363.8L233.6,362.8M222.4,366.5L220.6,363.8L220.1,360.6L218.6,357.8M218.6,357.8L219.6,354.9L222.3,353.3L222.9,350.2L223.1,350.1M232.2,376.8L231.9,374.0L231.3,371.3L230.0,368.6L230.9,365.7M217.8,372.1L220.2,369.4L222.4,366.5M209.1,360.1L212.2,359.1L215.4,358.3L218.6,357.8M212.6,346.3L215.1,346.5L217.6,346.4L220.0,347.6L221.7,347.8M233.7,331.3L234.1,333.9L235.1,336.4L234.7,339.1M219.4,330.9L220.3,333.3L220.7,335.9L222.3,338.1L223.2,340.5L224.3,342.8L224.4,344.4"/><path d="M92.7,357.2L92.5,357.6L92.2,360.4M101.6,347.0L102.6,348.9L104.2,351.1L107.2,352.3L107.7,355.2L108.5,357.8L109.6,360.3L111.7,362.2L112.8,364.6M112.8,364.6L110.7,366.5L108.9,368.8L108.0,371.6L105.5,373.3L104.5,376.1M104.5,376.1L103.5,373.2L101.2,371.4L98.8,369.7L98.1,366.6L95.7,365.0L93.8,362.8L92.2,360.4M92.2,360.4L90.4,362.2L88.3,363.5L86.0,364.7L83.4,365.3L81.6,367.2L79.7,368.8L79.0,369.4M165.7,352.4L165.4,352.8L163.7,354.6L162.8,357.1L161.6,359.2M153.0,343.6L150.3,345.0L148.9,347.1L147.3,349.1L147.2,351.9L147.0,354.6L145.1,356.4M145.1,356.4L147.8,357.2L150.6,357.1L153.5,356.9L156.1,358.0L158.7,359.4L161.6,359.2M161.6,359.2L161.2,362.0L161.9,364.6L163.2,367.1L161.6,370.0L164.0,372.4L163.7,375.1M181.5,378.2L181.0,378.1L178.5,377.9L176.2,376.7L173.5,377.3L171.3,375.5L168.6,376.1L166.1,375.9L163.7,375.1M102.8,436.3L103.5,434.9L104.6,432.6L105.9,430.5L106.7,428.1L108.0,425.9L108.9,423.6M108.9,423.6L106.4,422.5L104.5,420.6L101.5,420.3L99.2,418.9L97.5,416.7L96.2,415.8M104.3,378.8L102.5,380.7L100.0,381.8L97.8,383.3L96.0,385.3L94.0,386.4M116.2,384.0L114.0,382.5L111.4,382.1L109.1,380.8L106.3,380.6L104.3,378.8M116.2,384.0L116.3,386.7L115.9,389.4L116.2,392.0L116.6,394.6L117.3,397.2L117.1,399.9M117.1,399.9L114.6,400.6L112.0,400.2L109.4,401.1L106.8,401.1L104.2,400.1L101.7,401.3L100.7,400.8M104.3,378.8L104.7,377.4L104.5,376.1M117.1,399.9L119.8,401.7L122.2,404.0M122.2,404.0L124.3,402.2L125.7,399.8L127.4,397.7L130.1,396.3L130.1,392.7L132.7,391.4M116.2,384.0L118.9,382.6L121.6,380.9L124.8,380.7M124.8,380.7L126.5,382.7L128.1,384.9L127.9,388.3L131.0,389.3L132.7,391.4M174.9,403.7L172.8,402.9L170.0,402.5L167.9,400.9L165.9,399.1L163.2,398.6L160.9,397.4L158.5,396.3M174.1,409.4L173.9,409.8L171.7,411.2L169.4,412.3L167.4,413.9L166.0,416.1L163.9,417.5L161.9,419.1L160.0,420.7L157.8,422.0L156.2,424.0M158.5,396.3L155.6,397.2L152.7,398.2L150.1,400.0L147.0,400.3M156.2,424.0L153.5,423.0L151.5,420.9L149.1,419.6M149.1,419.6L147.4,417.3L147.6,414.4L146.3,412.0L145.5,409.5L145.1,406.8M147.0,400.3L145.7,403.4L145.1,406.8M163.7,375.1L161.8,376.1L159.9,377.2M159.9,377.2L160.2,379.9L158.6,382.6L159.6,385.4L158.7,388.1L158.8,390.8L158.0,393.5L158.5,396.3M158.9,434.0L158.8,433.6L157.6,431.3L157.0,428.9L157.1,426.3L156.2,424.0M146.5,376.5L145.5,378.9L145.8,381.9L143.9,384.0L142.4,386.3L142.5,389.2L141.3,391.6M141.3,391.6L142.6,393.8L144.8,395.5L145.2,398.4L147.0,400.3M159.9,377.2L157.2,377.7L154.5,377.6L151.8,376.9L149.2,375.4L146.5,376.5M122.2,404.0L123.0,405.2L123.1,406.7M123.1,406.7L125.9,406.0L128.6,406.9L131.4,406.8L134.1,407.6L136.9,406.0L139.6,405.9L142.3,406.6L145.1,406.8M132.7,391.4L135.6,391.6L138.5,391.7L141.3,391.6M134.5,446.3L134.6,445.0L134.4,442.5L134.9,440.0L134.4,437.5L134.4,434.9L135.2,432.4L134.5,429.9L134.3,427.4L134.2,424.9M120.5,442.2L120.0,440.9L118.8,438.5L118.3,436.0L118.6,433.2L117.5,430.9L117.2,428.3L115.8,426.0L115.6,423.3M134.2,424.9L131.4,424.1L128.6,423.1L125.6,422.8L122.8,421.9L120.4,420.1M115.6,423.3L118.1,421.9L120.4,420.1M149.1,419.6L146.5,420.2L144.4,422.2L141.7,422.5L139.0,422.6L136.7,424.0L134.2,424.9M108.9,423.6L112.2,423.2L115.6,423.3M123.1,406.7L123.0,409.4L122.5,412.1L121.8,414.8L120.9,417.4L120.4,420.1M130.3,370.7L133.5,371.2L136.8,370.8L140.0,370.1M130.3,370.7L127.7,368.6L125.4,366.2L123.4,363.6M140.0,370.1L141.3,367.5L141.0,364.4L142.7,361.9L143.7,359.2L144.9,356.6M123.4,363.6L123.2,360.9L123.6,358.3L124.8,355.9L124.1,353.1L124.9,350.6L125.4,348.1L125.8,346.9M129.2,344.1L130.4,346.4L132.8,347.3L134.8,348.9L136.9,350.3L139.0,351.7L141.2,353.1L142.5,355.5L144.9,356.6M146.5,376.5L144.4,374.3L142.1,372.3L140.0,370.1M124.8,380.7L126.6,378.4L127.2,375.5L129.2,373.3L130.3,370.7M112.8,364.6L115.5,364.3L118.1,363.6L120.8,364.2L123.4,363.6"/><path d="M99.6,226.0L100.9,227.4L102.0,229.7L103.8,231.6L104.5,234.0L105.5,236.3L105.5,236.5M90.8,238.3L91.8,239.0L94.5,239.1L96.5,240.8L98.7,241.9M98.7,241.9L101.2,240.6L102.0,240.4M92.7,261.9L93.6,262.4L96.3,262.4L98.6,263.4L101.0,264.2M96.8,275.6L96.9,275.0L99.2,273.0L99.2,270.1L100.8,267.8L101.6,265.2M101.0,264.2L101.2,264.8L101.6,265.2M114.7,329.0L112.4,326.8L109.4,325.6L106.6,324.2L104.3,322.1M114.7,329.0L115.5,331.6L114.8,333.3M104.3,322.1L103.4,324.5L101.4,326.4L100.4,328.9L100.4,330.8M119.3,325.5L116.9,327.2L114.7,329.0M129.3,331.0L128.6,330.6L126.3,329.2L123.8,328.3L121.1,327.7L119.3,325.5M85.5,325.1L86.1,326.9L87.6,329.0L89.9,330.4L90.6,330.9M131.6,321.7L129.9,320.3L128.2,318.3M119.3,325.5L119.3,325.0L119.6,324.5M119.6,324.5L122.2,323.5L124.0,321.6L125.6,319.2L128.2,318.3M115.6,301.8L113.7,303.6L111.4,305.0M115.6,301.8L117.0,304.2L119.4,306.0L120.9,308.5L122.7,310.6M116.6,315.0L119.6,312.8L122.7,310.6M116.6,315.0L113.6,314.2L110.4,314.0M110.4,314.0L110.7,311.0L111.0,308.0L111.4,305.0M128.2,318.3L126.9,316.7L127.8,314.8M135.2,310.1L134.2,310.8L132.3,312.5L130.2,314.0L127.8,314.8M116.6,315.0L115.6,318.8L118.1,321.5L119.6,324.5M127.8,314.8L125.7,312.4L122.9,310.7M116.0,300.3L115.1,297.6L113.1,295.8L111.0,294.0M116.0,300.3L118.3,299.2L120.7,298.3L122.6,296.3L124.9,296.0M122.3,286.5L120.7,286.9L118.1,287.1L115.5,287.6L112.9,287.8M112.9,287.8L112.0,290.9L111.0,294.0M111.4,305.0L108.7,303.9L105.7,303.4L102.8,302.8L99.9,302.0M100.4,296.3L100.9,299.2L99.9,302.0M100.4,296.3L103.0,295.5L105.8,295.5L108.3,294.3L111.0,294.0M115.6,301.8L116.0,301.1L116.0,300.3M122.9,310.7L124.5,308.4L125.7,305.9L126.5,304.8M108.1,281.1L105.3,281.5L102.5,281.6L99.7,281.9L99.7,281.9M108.1,281.1L109.9,283.1L110.7,285.9L112.9,287.8M99.6,295.3L100.4,296.3M110.4,247.3L107.9,248.4L105.4,248.9L102.7,249.1L100.2,249.9M110.4,247.3L112.8,249.3L114.7,251.5M112.1,254.5L110.3,254.9L108.0,255.8L105.4,256.1L103.1,257.2M103.1,257.2L101.4,254.0L99.8,250.6M99.8,250.6L100.7,250.6L100.2,249.9M108.2,240.1L109.0,241.8L110.3,244.4L110.4,247.3M98.7,241.9L99.2,244.6L99.0,247.4L100.2,249.9M101.0,264.2L101.8,260.7L103.1,257.2M90.4,253.1L91.9,251.8L95.0,252.9L97.4,251.7L99.8,250.6M111.6,276.3L109.9,273.8L108.3,271.3L107.5,268.3L105.2,266.2M111.6,276.3L114.1,275.5L116.1,274.4M105.2,266.2L107.9,265.6L110.2,264.0L112.2,264.2M108.1,281.1L109.7,278.6L111.6,276.3M101.6,265.2L103.5,265.2L105.2,266.2M103.9,320.5L104.9,319.1L105.0,317.3M103.9,320.5L100.9,320.7L98.0,319.6L95.2,320.0M105.0,317.3L102.8,315.3L102.3,312.4L100.1,310.5L99.3,307.8L97.7,305.5M92.3,319.2L92.8,317.5L93.3,314.9L92.1,312.2L92.6,309.6L92.2,307.0M92.2,307.0L95.0,306.4L97.7,305.5M104.3,322.1L104.6,321.2L103.9,320.5M110.4,314.0L108.4,316.9L105.0,317.3M99.9,302.0L98.6,303.6L97.7,305.5M90.8,306.5L92.2,307.0"/><path d="M225.9,393.1L226.6,394.5L226.4,397.2L226.9,399.8L227.7,402.2L228.0,404.8L227.9,407.5L228.0,409.1M224.5,392.9L223.1,394.0L220.9,396.1L217.7,396.8L215.6,399.1M215.6,399.1L215.6,401.9L216.0,404.7L216.1,407.5L216.7,410.2L217.4,412.9L216.1,415.8L217.3,418.5M224.0,417.7L222.5,417.6L219.8,417.6L217.3,418.5M196.4,399.6L196.8,400.7M196.8,400.7L199.4,400.0L202.1,399.8L204.9,400.7L207.5,399.6L210.2,399.7L212.9,399.8L215.6,399.1M278.2,467.5L277.0,468.6L275.5,470.6L274.3,472.8L274.2,473.5M217.3,418.5L214.1,419.8L211.8,422.2L209.3,424.4M196.8,400.7L195.7,401.0L196.7,401.5M196.7,401.5L198.6,403.5L198.5,406.5L200.8,408.2L201.2,411.0L203.2,412.8L203.8,415.5L205.7,417.4L207.7,419.3L208.5,421.8L209.3,424.4M209.3,424.4L210.1,425.8L208.6,426.4M218.4,435.9L216.1,434.3L214.3,432.2L212.2,430.5L210.6,428.2L208.6,426.4M218.4,435.9L221.1,434.4L224.2,435.3L227.1,434.9L229.9,434.0M233.1,430.7L231.2,431.7L229.9,434.0M218.4,435.9L218.1,438.6L217.1,441.3L218.4,444.1L217.3,446.8L218.0,449.5M218.0,449.5L220.9,448.9L223.9,448.8L226.9,448.1L229.9,448.7L232.9,448.1M229.9,434.0L230.5,436.8L230.7,439.7L230.9,442.6L232.3,445.3L232.9,448.1M270.3,477.8L268.7,477.5M268.7,477.5L267.3,479.5L265.6,481.4L264.5,483.7L263.7,486.2L263.6,486.3M188.0,413.2L188.3,415.8L189.2,418.3L189.9,420.8L189.8,422.5M188.0,413.2L185.4,413.6L182.9,413.3L180.4,414.0L177.9,412.9L175.4,413.5L173.8,414.0M196.7,401.5L195.0,403.9L193.7,406.6L191.4,408.5L190.8,411.7L188.0,413.2M208.6,426.4L206.2,427.7L203.5,428.6L201.9,429.7M216.5,452.1L216.7,451.7L218.0,449.5M264.3,461.3L263.8,462.5L263.4,465.1L262.1,467.4M268.7,477.5L266.9,475.7L265.3,473.7L264.2,471.4L262.5,469.6M262.1,467.4L262.6,468.4L262.5,469.6M262.5,469.6L260.3,471.0L257.9,472.1L255.4,472.9L253.1,473.9L251.9,474.9M247.4,461.0L245.4,462.8L244.0,465.0L242.0,466.5M247.4,461.0L248.1,458.4L247.7,455.7L248.3,453.0L247.2,450.3L247.6,448.8M231.7,464.1L231.9,461.9L232.0,459.2L233.4,456.9L233.3,454.2L233.8,451.6L234.7,449.2M246.4,447.6L245.2,447.6L242.6,448.1L239.9,448.1L237.4,449.2L234.7,449.2M262.1,467.4L259.9,465.7L257.3,465.1L254.7,464.3L252.1,463.5L249.6,462.6L247.4,461.0M232.9,448.1L234.1,448.2L234.7,449.2"/><path d="M32.6,411.9L32.5,413.2L32.6,415.7L32.0,418.2L32.5,420.8L32.2,423.3L31.8,425.8L32.2,428.3L31.2,430.8L32.2,433.3L31.8,435.8M17.0,436.2L19.0,435.2L21.6,436.0L24.2,436.4L26.7,436.0L29.2,436.0L31.8,435.8M54.2,458.0L52.1,456.1L52.8,453.0L51.0,451.0L50.5,448.5L49.1,446.4L47.9,444.1L47.0,441.7L46.1,439.3M38.6,440.2L41.1,440.0L43.6,440.1L46.1,439.3M38.6,440.2L37.9,442.7L37.4,445.3L36.2,447.6L35.4,450.1L33.6,452.1L33.6,454.9L32.1,457.1M54.2,458.0L51.5,458.4L49.6,460.3L47.3,461.6L44.6,462.1L42.7,464.1L40.4,465.2L38.0,466.2M38.0,466.2L36.8,463.7L35.3,461.5L33.1,459.7L32.1,457.1M31.8,435.8L33.9,437.5L36.6,438.3L38.6,440.2M9.8,457.6L11.9,457.0L14.4,458.0L17.0,457.5L19.5,456.6L22.0,456.7L24.5,457.1L27.1,456.7L29.6,457.0L32.1,457.1M8.6,497.9L9.9,496.4L11.4,494.4L12.7,492.2L14.8,490.5L16.5,488.7L17.2,486.0L18.3,483.6L20.6,482.2L21.9,480.0M5.8,463.4L6.7,464.7L9.1,466.2L10.2,468.9L11.8,471.1L14.7,472.0L17.3,473.3L18.3,476.0L20.2,477.9L21.9,480.0M72.7,424.3L72.4,425.1L72.3,427.6L72.7,430.1L71.7,432.6L72.3,435.2L71.8,437.7M50.5,418.2L50.2,419.5L50.4,422.1L48.8,424.3L48.5,426.8L48.1,429.3L48.0,431.9L47.2,434.3L47.0,436.9L46.2,439.3M46.2,439.3L48.7,439.3L51.3,438.7L53.9,439.5L56.4,438.7L59.0,438.6L61.6,438.5L64.1,438.4L66.6,437.3L69.3,438.6L71.8,437.7M97.3,434.1L97.0,434.2L94.2,434.7L92.8,437.3L90.4,438.4L87.8,439.2L85.9,440.9L83.8,442.5L81.8,444.2L79.5,445.5L77.3,446.9M77.3,446.9L75.7,444.8L74.9,442.1L73.4,439.9L71.8,437.7M60.4,460.5L57.1,459.8L54.2,458.0M60.4,460.5L62.9,459.1L65.2,457.3L67.7,456.0L70.6,455.5L72.5,453.0L75.0,451.7L77.7,450.6M77.7,450.6L77.8,448.7L77.3,446.9M81.8,454.8L84.5,454.4L87.1,453.9L89.7,452.6L92.5,452.8L95.1,452.1L97.8,451.4L100.5,451.1L103.2,450.7L106.0,450.8L108.6,449.9M81.8,454.8L81.5,457.5L83.1,459.7L83.2,462.3L84.6,464.5L86.1,466.7L86.1,469.3L86.2,471.9L87.6,474.1M87.6,474.1L89.7,475.8L92.5,475.6L94.3,478.1L97.3,477.5L98.7,478.1M108.6,449.9L108.9,452.5L110.8,454.5L112.1,456.8L113.1,459.1L112.6,462.1L113.7,464.1M111.1,439.4L111.1,440.0L110.2,442.4L109.5,444.9L109.2,447.4L108.6,449.9M77.7,450.6L79.3,453.1L81.8,454.8M60.4,460.5L60.9,463.2L60.8,465.9L60.5,468.6L60.7,471.2L60.6,473.9L60.9,476.6M60.9,476.6L63.6,476.6L66.4,476.3L69.1,477.2L71.8,476.9L74.6,477.4L77.3,477.7L80.1,476.9L82.8,477.1M82.8,477.1L85.0,475.3L87.6,474.1M78.4,507.5L77.7,506.8L75.3,505.5L73.7,503.5L73.1,500.9M82.8,477.1L82.5,479.8L80.7,481.8L80.6,484.6L79.4,486.9L77.9,489.0L77.4,491.6L76.6,494.0L74.5,496.0L73.8,498.4L73.1,500.9M29.7,480.6L32.3,478.6L34.9,476.4L37.3,474.2M29.7,480.6L30.9,483.1L31.3,485.8L31.8,488.5L32.6,491.0L34.2,493.4L34.8,496.0M37.3,474.2L39.1,476.5L42.0,476.2L44.5,476.9L47.0,477.6L49.4,478.5L51.4,480.3L54.5,479.5L56.4,481.8M34.8,496.0L37.3,497.2L40.0,497.9L42.1,499.7L44.5,501.1L46.9,502.4M46.9,502.4L48.6,500.2L50.7,498.8L53.5,498.1L54.9,495.8L57.2,494.5M57.2,494.5L57.0,491.9L56.7,489.4L57.1,486.9L57.1,484.3L56.4,481.8M38.0,466.2L37.3,468.8L37.3,471.5L37.3,474.2M21.9,480.0L24.5,480.5L27.2,479.8L29.7,480.6M24.9,502.9L26.5,502.1L28.2,500.0L30.2,498.4L33.1,498.0L34.8,496.0M60.9,476.6L58.9,479.5L56.4,481.8M46.1,511.8L45.8,509.8L46.9,507.4L46.2,504.8L46.9,502.4M73.1,500.9L70.6,499.4L67.7,499.0L64.9,498.3L62.5,496.6L59.6,496.0L57.2,494.5"/><path d="M279.4,339.8L279.0,342.3L276.9,344.1L276.5,346.7L275.0,348.7L275.9,351.8L274.0,353.6M279.4,339.8L282.5,339.5L285.5,339.2L288.6,339.1M288.6,339.1L289.4,341.5L291.9,343.1L291.5,346.1L293.0,348.2L294.8,350.1L295.6,352.4L296.1,355.0L296.3,355.3M294.0,330.6L296.4,331.3L299.0,330.9L301.4,331.8L304.0,331.0L306.5,331.2L308.9,332.4L311.5,332.0L313.9,333.1L316.5,332.4L318.4,333.1M294.0,330.6L293.6,333.3L291.6,335.1L290.5,337.4L288.6,339.1M288.8,315.7L287.7,313.2L287.4,310.4L286.2,307.9M288.8,315.7L289.3,315.4L289.2,316.0M289.2,316.0L292.1,316.7L294.5,315.3L296.9,313.9L299.5,313.2L302.2,313.0L304.7,312.3L307.3,311.5L310.1,312.1L312.5,311.4M288.1,303.1L290.1,301.3L293.2,301.1L294.9,298.7L297.7,298.1L299.4,295.7M288.1,303.1L287.4,305.6L286.2,307.9M299.4,295.7L301.5,297.5L304.2,297.9L306.1,299.9L308.9,300.0L311.5,300.7L312.1,301.0M294.0,330.6L293.7,328.0L293.3,325.5L291.1,323.5L291.3,320.7L291.2,318.1L289.2,316.0M297.9,284.8L298.6,285.7L298.5,288.2L298.6,290.7L298.2,293.3L299.4,295.7M281.4,286.9L282.2,289.2L282.2,291.9L284.3,293.8L285.7,295.9L286.5,298.3L286.8,300.9L288.1,303.1M268.7,286.5L268.6,286.9L270.0,289.2L270.4,291.7L270.8,294.3L271.4,296.8L272.1,299.3L272.3,301.9L273.2,304.3M273.2,304.3L275.6,305.7L278.2,306.2L281.0,306.2L283.8,306.2L286.2,307.9M256.9,285.9L257.2,287.0L257.8,289.6L257.2,292.1L257.8,294.6L258.9,297.1L257.4,299.7L258.5,302.2L258.0,304.7L257.7,307.2M273.2,304.3L270.8,305.9L268.6,307.6L266.2,309.2L263.8,310.6M263.8,310.6L261.1,308.2L257.7,307.2M236.8,302.1L237.1,302.2L238.9,304.2L241.6,304.5L243.9,305.6L246.1,306.8L248.2,308.2L250.3,309.6M241.9,325.7L242.2,325.7L244.8,325.8L247.0,324.5M247.0,324.5L248.8,322.3L247.9,319.5L248.6,317.0L249.5,314.6L249.7,312.1L250.3,309.6M250.3,309.6L252.9,309.2L255.0,307.5L257.7,307.2M274.3,322.8L272.3,321.2L269.2,321.3L267.7,318.8L265.3,317.8M274.3,322.8L273.7,325.9L272.5,329.0L274.1,332.2L273.4,335.3M265.3,317.8L263.0,319.6L261.0,321.7L259.7,324.4L257.2,326.0L255.4,328.2M273.4,335.3L270.7,336.2L267.9,336.9L265.2,337.6L262.2,337.4L259.4,337.8M259.4,337.8L257.9,335.6L256.4,333.4L256.5,330.5L255.4,328.2M288.8,315.7L286.8,317.7L283.8,317.7L281.5,319.1L279.3,320.8L277.1,322.4L274.3,322.8M263.8,310.6L265.0,314.1L265.3,317.8M279.4,339.8L277.0,338.8L275.3,336.9L273.4,335.3M247.0,324.5L249.9,325.5L252.0,328.1L255.4,328.2M256.7,345.2L256.8,344.9L257.8,342.5L257.6,339.7L259.4,337.8"/><path d="M163.3,307.8L164.5,309.6L167.1,310.2M158.8,316.3L158.9,316.3L162.0,314.8L165.3,314.7M167.1,310.2L166.5,312.6L165.3,314.7M172.5,331.2L172.8,329.3L174.4,327.2L176.1,325.4M179.2,308.3L178.9,308.1L176.0,308.8L173.3,308.2L170.8,307.0M179.7,313.9L179.1,314.0L176.6,314.8L174.0,315.3M174.0,315.3L172.4,313.1L171.4,310.6L170.1,308.3M170.8,307.0L171.1,308.0L170.1,308.3M170.2,303.2L170.6,304.5L170.8,307.0M172.6,317.1L173.1,316.0L174.0,315.3M172.6,317.1L173.1,320.5L173.8,324.0M173.8,324.0L174.9,324.9L176.1,325.3M172.6,317.1L169.8,317.1L167.0,317.0M165.3,314.7L166.2,315.8L167.0,317.0M167.1,310.2L168.3,308.7L170.1,308.3M166.1,321.9L167.0,323.4L168.1,324.7M166.1,321.9L162.5,321.5L158.9,322.0M168.1,324.7L167.0,327.1L166.5,329.6M158.9,322.0L158.5,324.7L157.8,327.2L157.1,329.8L157.1,329.8M167.0,317.0L165.1,319.2L166.1,321.9M173.8,324.0L171.0,324.4L168.1,324.7M157.2,319.3L158.9,322.0"/><path d="M155.3,336.0L151.7,335.5L148.1,334.5M155.3,336.0L156.8,334.8L158.4,333.6M158.4,333.6L158.8,331.0L158.7,329.7M148.1,328.8L147.9,329.0L149.2,332.0L148.1,334.3M145.7,339.4L145.8,339.2L146.6,336.7L148.1,334.5M154.5,340.7L152.1,342.1L149.6,343.1L149.3,343.2M154.5,340.7L155.8,338.5L155.3,336.0M171.4,329.8L170.2,330.2L168.4,332.1L166.1,333.1L164.7,335.5L162.0,336.0M162.0,336.0L159.9,335.2L158.4,333.6M142.9,331.5L143.7,332.0L146.3,332.4L148.1,334.3M167.6,346.1L165.0,346.9L162.2,347.3L159.7,348.3M167.6,346.1L166.9,342.5L165.7,339.1M162.8,337.5L164.5,337.8L165.7,339.1M162.8,337.5L162.1,340.4L159.9,342.5L158.9,345.2M158.9,345.2L158.8,346.8L159.7,348.3M169.1,346.3L167.6,346.1M158.9,349.7L159.7,348.3M174.0,335.6L172.8,336.6L170.5,337.8L167.8,337.8L165.7,339.1M162.0,336.0L162.1,336.9L162.8,337.5M154.5,340.7L156.3,343.3L158.9,345.2"/><path d="M225.6,382.7L225.1,383.7L225.6,386.4L226.0,389.0L226.3,391.7L225.8,393.1M243.1,366.4L243.2,367.9M229.6,379.4L231.8,380.2L234.3,381.3L237.3,380.0L239.7,381.7M239.7,381.7L240.3,378.9L240.1,375.9L242.0,373.5L242.2,370.6L243.2,367.9M261.7,365.8L260.6,367.6L259.0,369.5L257.4,371.4L255.7,373.3L254.7,375.6M243.2,367.9L245.9,368.8L247.8,371.0L250.4,372.1L251.9,374.8L254.7,375.6M261.5,379.7L259.3,379.6L257.2,378.1L254.7,377.4M254.7,375.6L255.5,376.5L254.7,377.4M240.9,384.7L242.9,386.6L244.9,388.7L245.8,391.6L248.6,393.0L249.4,394.1M240.9,384.7L239.2,383.9L240.7,382.9M240.7,382.9L243.3,382.8L245.3,380.5L247.9,380.6L250.2,379.4L252.9,379.5M253.4,392.5L253.3,390.9L254.2,388.0L252.6,385.3L252.9,382.4L252.9,379.5M233.2,396.3L233.3,395.9L235.2,393.9L236.1,391.3L238.2,389.4L238.8,386.5L240.9,384.7M239.7,381.7L239.7,382.7L240.7,382.9M254.7,377.4L253.3,378.0L252.9,379.5"/><path d="M251.9,95.0L252.6,96.3L253.2,98.7L253.7,101.2L254.0,103.7L255.3,106.0L256.2,108.3L256.7,110.8L256.7,113.3L257.9,115.6L258.2,118.1L258.6,120.6L260.0,122.8L261.0,125.2L261.8,127.5L262.2,130.0L262.6,132.5M262.6,132.5L260.0,132.4L257.5,133.7L254.8,133.1L252.3,133.3L249.6,133.0L247.2,134.7L244.6,134.9L242.0,134.5L239.4,134.8L236.9,135.3L234.4,136.4L231.8,136.8L229.2,136.6L228.5,136.7M248.5,240.4L248.5,240.3L247.0,238.1L245.5,235.9L244.6,233.4L244.0,230.9L243.2,228.4L242.0,226.1M242.0,226.1L244.4,224.1L243.4,220.9L244.5,218.5L246.2,216.3L246.5,213.6L247.7,211.2L247.7,208.4L248.6,205.9L250.7,203.9L250.8,201.1L251.4,200.4M218.1,254.8L219.9,254.7L222.5,255.3L224.9,253.5L227.4,253.5L229.9,254.0L232.4,253.9L234.9,253.9L237.4,253.1L239.9,253.1L242.5,254.1L244.9,253.5L247.4,253.4L249.1,253.4M215.8,216.5L216.0,216.5L218.3,217.5L220.7,218.5L223.4,218.4L225.5,219.9L227.8,220.9L230.5,221.1L232.7,222.2L235.0,223.3L237.0,225.2L239.5,225.6L242.0,226.1M217.4,193.1L219.9,192.1L222.4,192.7L224.9,192.3L227.4,192.5L229.9,192.8L232.4,191.9L234.9,191.7L237.4,192.1L239.9,191.7L242.5,192.7L244.9,191.5L247.4,191.2L250.0,192.6L250.5,192.2M262.6,132.5L264.8,133.8L267.0,135.2L269.5,136.0L271.6,137.4L273.1,139.3M225.2,154.1L227.3,155.5L229.0,157.6L230.8,159.5L233.0,160.9L235.6,161.6L237.5,163.4L239.9,164.5L241.8,166.3L244.1,167.5L245.2,170.4L247.7,171.2L250.3,172.1L252.4,173.5L254.0,175.7L255.9,176.0"/><path d="M314.1,463.0L315.7,464.9L318.2,465.5L320.4,466.8L322.1,468.7L324.4,469.8M324.4,469.8L325.7,466.9L327.5,464.4L329.1,461.7M329.1,461.7L328.6,459.2L327.3,457.0L326.6,456.3M318.1,477.1L318.4,479.6L317.5,482.3L320.2,484.7L319.7,487.3L319.0,490.0L319.2,492.5L320.0,495.1L320.0,495.3M318.1,477.1L315.6,476.5L313.1,475.9L310.9,474.6L309.2,473.2M325.1,472.8L322.6,474.0L320.8,476.2L318.1,477.1M325.1,472.8L327.0,474.5L329.6,475.3L332.0,476.2L333.8,478.3M333.8,478.3L333.1,480.8L333.0,483.5L331.1,485.6L330.1,488.1L330.8,491.0L330.2,492.4M324.4,469.8L326.1,471.0L325.1,472.8M339.9,453.5L340.0,453.9L340.9,456.3L341.5,458.7L341.7,459.6M342.6,464.1L342.9,466.2M351.9,449.2L352.2,450.2L353.9,452.2L354.3,454.3M342.9,466.2L343.2,467.3M329.1,461.7L332.0,462.2L334.5,463.8L337.3,464.6L340.3,464.7L342.9,466.2M333.8,478.3L336.7,477.4L337.6,475.9"/><path d="M300.7,387.7L302.7,388.0L304.5,389.9L306.7,391.2L309.0,392.3L311.2,393.4L312.9,395.5L315.8,395.3L317.7,397.2M317.7,397.2L318.3,394.6L320.1,392.5L320.6,389.9L320.7,387.1L322.6,385.0L322.1,382.0L324.0,380.0L325.5,377.8L326.2,375.2M326.2,375.2L325.4,372.7L323.1,371.3L322.0,369.0L320.2,367.2L318.3,365.5L317.9,364.9M317.7,397.2L318.3,399.7L319.4,402.2L320.2,404.7L320.3,407.4L322.0,409.6M322.0,409.6L319.6,411.0L319.6,411.1M326.2,375.2L328.4,376.6L331.1,376.8L333.6,377.2L335.7,378.8L338.4,378.9L340.5,380.4M340.5,380.4L342.5,378.8L343.5,376.4L346.0,375.2L347.2,373.0L348.2,370.5L350.3,369.0L352.0,367.1L353.9,365.5L354.8,362.9L355.1,362.7M322.0,409.6L324.7,409.5L327.1,408.1L329.8,407.9L332.3,407.1L334.8,406.2L337.4,405.4L340.0,405.1L342.2,402.7L345.1,403.6L347.5,402.3L350.3,402.3M340.5,380.4L342.2,382.6L342.5,385.4L344.0,387.6L345.0,390.1L346.0,392.6L348.0,394.6L348.9,397.1L348.5,400.2L350.3,402.3M355.5,409.9L353.3,407.7L351.9,405.0L350.3,402.3M355.5,409.9L358.0,410.0L360.5,409.3L363.0,409.2L365.4,408.0L368.0,408.3L370.5,408.9L373.0,408.7L375.6,409.0L378.1,408.6L378.4,408.5M350.3,402.3L353.4,401.9L353.8,398.7L355.9,397.2L357.8,395.6L359.6,393.9L360.4,391.0L362.9,390.0L364.2,387.7L366.9,386.9L367.8,384.2L368.7,383.1M356.5,423.4L355.9,422.4L355.9,419.9L355.8,417.4L357.0,414.8L356.0,412.4L355.5,409.9"/><path d="M267.7,347.4L267.0,349.7L265.1,351.5L264.5,354.1M264.5,354.1L265.6,356.4L265.5,359.0L267.4,361.1L266.8,363.9L266.9,364.1M236.6,336.6L236.4,337.6L237.9,339.7L238.5,342.2M238.5,342.2L236.7,344.4L234.7,346.2L232.0,347.3L230.2,349.4L227.9,350.9L225.8,352.7L225.2,353.2M253.0,340.0L252.3,340.6L251.1,343.0L249.9,345.3L247.5,346.7M247.5,346.7L245.6,344.8L242.7,345.1L240.6,343.6L238.5,342.2M253.8,356.1L254.4,358.7L253.4,361.2L253.5,363.0M253.8,356.1L251.6,354.8L249.9,352.7L247.5,351.5M244.6,365.2L244.3,363.2L243.4,360.8L243.1,358.3L242.2,356.0M247.5,351.5L245.4,354.4L242.2,356.0M264.5,354.1L261.8,354.6L259.3,356.0L256.3,354.7L253.8,356.1M247.5,346.7L247.1,349.1L247.5,351.5M229.3,358.0L229.7,357.7L232.2,357.7L234.7,357.3L237.2,357.0L239.8,357.0L242.2,356.0"/><path d="M316.0,366.5L313.9,367.5L311.6,368.5L309.2,369.3L307.0,370.7L304.0,369.8L302.1,371.9L299.7,372.5L297.3,373.2L295.2,374.8L292.6,375.2M279.7,369.0L282.3,370.0L284.9,371.3L287.4,372.7L289.9,374.2L292.6,375.2M298.6,395.9L298.3,395.4L297.4,393.0L296.7,390.4L296.4,387.8L295.5,385.3L294.7,382.8L294.1,380.2L293.7,377.6L292.6,375.2M283.5,400.2L282.9,400.0L280.1,400.2L277.8,398.8L275.3,398.0L272.6,397.8L270.1,397.0L267.7,395.7L265.0,395.7M285.2,397.8L282.9,396.3L282.2,393.8L281.1,391.5L279.9,389.2L279.7,386.5L278.2,384.4L278.1,381.6L277.2,379.3L275.5,377.2L274.6,374.8M265.0,395.7L264.1,393.2L264.4,390.5L264.0,387.9L263.4,385.3L263.5,382.6M274.6,374.8L272.0,375.8L270.2,378.0L268.3,380.0L265.5,380.8L263.5,382.6M255.4,404.3L255.6,404.2L256.9,401.7L259.1,400.5L260.7,398.5L263.3,397.7L265.0,395.7M277.0,369.9L276.9,370.0L276.3,372.6L274.6,374.8M258.4,382.3L258.5,382.3L260.9,383.6L263.5,382.6"/><path d="M332.5,427.6L332.5,427.9L334.0,430.0L334.8,432.4L335.9,434.7L336.7,437.1M336.7,437.1L335.1,439.0L332.7,440.1L331.1,442.0L329.5,444.0L327.4,445.4L326.4,446.3M338.3,437.9L337.3,437.8L336.7,437.1M338.3,437.9L341.0,437.9L343.6,438.0L346.2,437.0L348.8,436.9L351.6,438.1L354.1,436.9M355.4,423.9L355.3,424.4L355.7,427.0L354.8,429.4L354.5,431.9L354.2,434.4L354.1,436.9M365.3,440.1L364.4,439.7L362.0,439.1L359.3,439.1L357.1,437.8L354.6,437.5M354.6,437.5L354.5,440.2L353.4,442.7L353.9,445.4L353.4,448.0L352.7,450.6L352.8,453.3L351.7,455.8L351.7,456.0M354.1,436.9L353.3,438.0L354.6,437.5M338.3,437.9L338.4,440.5L339.6,442.8L340.6,445.1L339.8,447.9L342.2,449.9L341.6,452.4"/><path d="M277.1,200.8L279.7,200.5L282.3,200.1L284.6,199.0L286.6,197.5L288.3,195.3L290.9,194.7L292.4,192.2L294.9,191.7L298.0,192.2L299.8,190.1L301.9,188.7L304.0,187.4L306.3,186.4L308.5,185.1L310.2,183.0L313.5,183.8L315.1,181.5M321.4,185.8L321.3,185.7L319.3,184.3L316.8,183.5L315.1,181.5M320.3,143.8L318.7,145.1L316.6,146.7L314.7,148.3L313.2,150.5L310.9,151.8M306.5,106.8L305.0,107.0L302.5,106.9L300.0,107.4L297.6,107.7L295.1,108.3L292.4,106.8L290.0,107.8L287.5,107.7L285.1,108.8L282.6,109.4L280.1,109.4L277.8,111.5L275.9,111.1M310.9,151.8L308.4,151.7L305.9,152.4L303.5,152.9L301.0,153.0L298.5,153.6L296.1,154.6L293.5,154.1L291.2,155.4L288.8,156.1L286.1,155.1L283.7,156.5L281.9,156.5M315.1,181.5L314.5,178.8L314.4,176.1L314.3,173.3L313.1,170.7L313.5,167.9L313.4,165.2L312.4,162.6L312.5,159.8L311.4,157.2L311.0,154.5L310.9,151.8"/><path d="M200.5,276.4L199.0,276.7L197.2,278.5L195.0,279.7L193.2,281.5L191.0,282.8L190.8,282.8M189.2,264.4L190.0,264.3L192.2,265.5L194.7,266.1L197.0,267.2L199.4,267.9L202.2,267.2L204.7,267.5L206.6,268.6M199.0,253.3L200.7,254.6L201.7,256.9L202.4,259.4L203.8,261.5L205.4,263.4L206.9,265.5L208.1,267.2"/><path d="M298.6,363.9L297.8,362.8L296.6,360.6L295.4,358.4L294.2,356.2M295.5,352.1L294.7,353.7L294.2,356.2M285.7,368.9L285.9,368.2L285.5,365.7L285.3,363.2M285.3,363.2L283.6,361.3L281.4,360.1L280.0,357.8L277.7,356.6L275.4,355.4L274.6,354.5M294.2,356.2L292.5,358.5L289.8,359.7L287.5,361.3L285.3,363.2"/><path d="M51.7,290.2L53.9,291.2L56.4,291.1L58.8,291.8L61.2,292.9L63.6,293.5L66.3,292.6L68.7,293.5L71.2,294.1L73.7,294.1L75.6,295.6"/><path d="M259.8,410.4L258.9,410.3L256.4,411.1L253.9,410.5L251.4,410.4L248.9,409.8L247.5,410.1M243.0,410.9L241.4,410.1L238.8,410.4L236.3,410.8L235.7,410.5"/><path d="M235.7,394.9L236.2,397.5L235.2,399.9L235.4,402.4L234.8,404.9L234.8,405.1"/></g>
<g id="cout" fill="none" stroke="#4a4a3a" stroke-opacity="0.55" stroke-width="0.35"><use href="#o-ie"/><use href="#o-gb"/><use href="#o-es"/><use href="#o-fr"/><use href="#o-de"/><use href="#o-nl"/><use href="#o-be"/><use href="#o-se"/><use href="#o-fi"/><use href="#o-dk"/><use href="#o-ee"/><use href="#o-lv"/><use href="#o-lt"/><use href="#o-pl"/><use href="#o-hu"/><use href="#o-cz"/><use href="#o-sk"/><use href="#o-at"/><use href="#o-si"/><use href="#o-hr"/><use href="#o-it"/><use href="#o-ro"/><use href="#o-bg"/><use href="#o-gr"/><use href="#o-cy"/></g>
</defs>
<g clip-path="url(#clip04)">
<use href="#greys" fill="#ededed" stroke="#8c8c8c" stroke-width="0.55"/>
<use href="#whites" fill="#fff" stroke="#9a9a9a" stroke-width="0.5"/>
<path fill="none" stroke="#a8a8a8" stroke-width="0.5" d="M288.5,410.5L289.2,416.0L292.6,421.6L293.3,427.1L289.2,429.9L286.4,434.7L285.0,441.0L285.7,444.4M289.2,429.9L295.4,433.3L301.0,436.8L302.3,441.0L305.1,444.4L309.3,445.1L313.4,443.0L319.0,441.7L323.8,441.0M301.0,441.0L298.2,445.1L295.4,449.3L294.7,453.4M307.9,445.1L307.2,450.7L307.9,456.2L309.3,459.7L312.7,463.1M302.3,441.0L306.5,439.6L309.3,441.7L309.3,445.1M360.0,353.5L367.6,354.8L371.4,359.2L376.5,365.5L382.2,371.9L375.2,373.8L373.3,380.8L370.8,387.1M321.8,194.1L323.5,193.7L323.9,195.8L325.2,198.3L327.7,198.7L330.2,197.9L333.6,198.3L336.1,200.4L333.6,201.3L330.2,201.7L328.6,202.9L326.9,204.6L324.3,205.9L323.1,208.0L323.9,210.5"/>
<use href="#o-ie" fill="#f9c96c"/><g clip-path="url(#c-ie)"><path d="M50.2,289.3L53.7,290.1L55.2,291.6L57.1,292.4L59.4,292.7L61.3,294.3L63.2,295.8L65.5,296.6L67.7,297.3L68.5,295.8L68.5,292.7L68.9,289.7L69.7,286.7L70.8,285.1L73.1,284.2L75.0,285.5L79.2,286.3L82.2,314.8L33.5,314.8L33.5,295.8Z" fill="#1f7a45"/></g>
<use href="#o-gb" fill="#1f7a45"/><g clip-path="url(#c-gb)"><path d="M98.9,278.5L102.0,275.4L106.2,273.3L110.3,270.2L112.9,266.6L116.5,269.2L117.6,275.4L118.6,279.5L120.7,282.7L123.3,285.8L124.8,289.4L125.9,293.0L126.9,297.2L127.4,301.3L126.9,305.5L124.8,308.8L121.7,309.3L119.7,306.7L118.1,305.7L116.5,306.7L113.4,306.7L110.8,306.2L109.3,307.8L106.2,308.8L103.0,309.9L99.4,310.9L97.1,309.3L97.1,305.0L99.2,302.9L101.0,300.3L100.2,297.2L101.3,294.1L101.8,291.0L100.5,287.8L99.1,284.7L98.5,281.6Z" fill="#f9c96c"/><path d="M106.7,287.3L109.3,284.7L113.4,284.2L118.6,284.7L122.2,286.3L123.6,289.4L120.7,291.0L118.1,292.0L117.6,295.1L115.0,296.2L111.9,295.6L109.3,294.1L108.7,291.0L107.2,289.4Z" fill="#1f7a45"/><path d="M99.7,298.4L102.0,296.7L105.1,294.6L108.2,295.1L109.3,297.2L107.7,299.8L105.1,301.3L102.5,302.6L100.2,301.6Z" fill="#1f7a45"/><path d="M109.1,280.6L110.8,279.0L114.5,279.3L117.1,281.4L118.8,284.4L115.5,284.5L111.3,284.2L109.3,283.5Z" fill="#f2953a"/><path d="M78.2,312.6L83.2,310.9L87.3,309.3L90.7,306.8L91.8,303.4L90.2,300.1L86.5,298.1L89.0,294.3L92.3,296.0L96.5,296.8L98.1,298.5L97.8,301.8L95.7,305.1L94.0,308.4L93.2,312.6L94.0,315.9L96.1,317.6L96.1,320.4L92.3,319.7L88.2,318.9L84.0,317.1L79.0,315.9Z" fill="#f2953a"/><path d="M68.2,338.3L71.6,333.4L76.5,330.9L79.9,328.4L82.9,326.4L84.8,328.4L84.0,331.7L81.9,335.0L79.9,340.0L69.1,340.3Z" fill="#f2953a"/><path d="M82.9,326.7L85.7,324.2L89.0,323.4L93.2,323.1L96.5,324.7L99.8,325.9L102.3,328.4L104.5,331.7L103.1,333.7L100.6,332.0L97.3,330.9L94.0,330.0L90.7,331.7L87.3,335.0L84.0,336.7L83.5,332.0L84.8,328.4Z" fill="#f9c96c"/><path d="M121.4,326.7L125.6,325.4L129.7,326.4L133.0,328.4L130.6,331.7L126.4,332.7L123.1,332.0L121.1,329.2Z" fill="#f9c96c"/><path d="M117.1,323.2L120.7,322.1L122.4,324.2L121.5,326.3L118.6,326.8L117.0,325.2Z" fill="#e8e8e8"/></g>
<use href="#o-es" fill="#f2953a"/><g clip-path="url(#c-es)"><path d="M17.3,433.0L22.0,432.2L24.2,435.2L29.3,436.3L34.4,437.4L38.4,438.8L41.7,442.5L38.8,445.4L35.2,448.3L33.4,452.7L32.5,458.6L31.5,462.3L29.3,465.2L25.6,466.6L24.2,469.6L25.6,474.0L26.4,476.2L23.4,479.8L22.0,484.2L24.2,487.2L22.0,489.4L18.3,491.5L16.8,494.5L16.4,497.4L0.0,498.1L0.0,433.0Z" fill="#ff0000"/><path d="M32.5,459.3L38.8,457.9L43.9,461.5L46.9,465.2L46.1,470.3L50.5,475.4L47.6,479.8L43.9,483.5L39.5,486.4L38.1,489.6L33.0,490.1L28.6,487.9L24.2,487.2L22.0,484.2L23.4,479.8L26.4,476.2L25.6,474.0L24.2,469.6L25.6,466.6L29.3,465.2L31.5,462.3Z" fill="#ff0000"/><path d="M36.6,427.1L39.3,424.6L49.8,425.2L55.7,425.2L62.3,423.7L67.4,423.4L72.5,423.4L76.2,426.7L75.4,431.5L74.0,436.6L74.7,441.7L79.1,443.9L84.2,446.1L85.0,449.8L82.0,453.5L81.3,456.4L76.2,454.9L70.3,453.9L66.6,454.5L63.0,457.9L57.9,461.5L54.9,464.4L49.8,464.4L46.9,465.2L43.9,461.5L38.8,457.9L32.5,459.3L33.4,452.7L35.2,448.3L38.8,445.4L41.7,442.5L38.4,438.8L35.9,436.6L37.4,431.5Z" fill="#f9c96c"/><path d="M76.2,426.7L79.8,424.9L85.0,427.8L90.1,428.6L96.7,433.0L102.5,436.6L108.4,438.8L112.8,438.4L117.2,441.0L121.6,443.2L139.2,443.9L139.2,451.3L108.4,468.6L105.5,468.8L102.5,465.9L99.6,465.2L97.4,467.4L95.2,470.3L92.3,473.2L90.8,474.7L87.9,471.8L85.0,468.8L83.5,464.4L85.7,460.1L83.5,456.4L81.3,456.4L82.0,453.5L85.0,449.8L84.2,446.1L79.1,443.9L74.7,441.7L74.0,436.6L75.4,431.5Z" fill="#1f7a45"/><path d="M55.4,463.7L57.9,461.5L63.0,457.9L66.6,454.5L67.7,458.6L67.4,463.0L68.8,466.6L68.6,468.8L64.4,468.1L61.5,470.0L60.1,466.6Z" fill="#1f7a45"/><path d="M102.5,465.9L105.5,468.8L102.5,471.8L102.5,493.7L93.7,496.7L90.8,501.1L87.9,504.3L86.4,501.1L85.7,495.2L87.6,489.4L85.0,485.0L84.2,479.8L86.4,476.2L89.4,474.0L92.3,473.2L95.2,470.3L97.4,467.4L99.6,465.2Z" fill="#f9c96c"/><path d="M-0.7,468.6L4.4,466.9L8.8,468.0L10.8,471.5L11.1,474.7L8.2,477.0L3.7,477.8L-0.7,476.8Z" fill="#1f7a45"/><path d="M0.0,493.7L4.4,493.0L10.3,493.7L16.4,493.7L16.8,498.1L0.0,498.9Z" fill="#f2953a"/><path d="M108.4,477.6L146.5,477.6L146.5,495.2L108.4,495.2Z" fill="#1f7a45"/></g>
<use href="#o-fr" fill="#f9c96c"/><g clip-path="url(#c-fr)"><path d="M130.7,340.7L134.6,332.9L139.5,331.9L143.3,337.8L148.2,340.7L153.0,343.6L154.0,348.4L151.1,352.3L149.1,357.1L146.2,362.0L141.4,359.1L136.6,357.1L132.7,356.2L131.7,349.4Z" fill="#f2953a"/><path d="M129.8,359.1L134.6,357.1L141.4,359.1L145.3,362.0L144.3,366.8L140.4,370.7L135.6,368.8L131.3,366.8L129.4,362.9Z" fill="#1f7a45"/><path d="M118.1,395.9L124.0,393.0L131.7,394.0L134.6,398.8L132.7,404.6L128.8,410.4L125.9,411.4L122.0,406.6L119.1,401.7Z" fill="#f2953a"/><path d="M137.5,415.3L141.4,414.3L145.3,419.1L148.2,423.0L153.0,425.0L151.1,431.7L145.3,434.7L140.4,437.6L136.6,441.4L136.6,448.2L129.8,446.3L124.9,443.4L124.0,437.6L126.9,433.7L132.7,431.7L137.5,427.9L139.5,423.0L137.5,419.1Z" fill="#f2953a"/><path d="M145.3,400.7L150.1,397.8L155.9,396.9L159.8,394.9L164.7,397.8L168.5,394.0L176.3,394.0L178.2,415.3L170.5,414.3L166.6,416.2L161.7,421.1L159.8,425.0L155.0,424.0L150.1,422.6L146.2,421.1L145.3,416.2L149.1,411.4L148.2,406.6L145.3,404.6Z" fill="#1f7a45"/><path d="M186.0,440.5L199.5,440.5L199.5,465.7L186.0,465.7Z" fill="#f2953a"/></g>
<use href="#o-de" fill="#1f7a45"/><g clip-path="url(#c-de)"><path d="M191.2,299.6L194.8,300.8L199.8,303.3L203.1,304.9L207.3,304.1L209.8,300.0L213.1,296.6L219.8,294.1L226.4,290.0L233.1,286.7L241.4,296.6L244.7,329.9L241.4,337.4L231.4,341.2L226.4,343.7L222.3,346.2L218.9,344.0L214.8,343.2L211.5,344.0L207.3,343.2L204.0,340.7L202.3,336.5L203.1,332.4L207.3,329.9L209.8,326.6L210.6,320.7L209.8,315.7L207.3,313.3L204.0,314.9L199.8,313.3L195.7,310.8L192.3,306.6Z" fill="#f2953a"/><path d="M227.2,314.9L230.6,314.1L232.2,316.6L230.6,318.6L227.7,317.9Z" fill="#1f7a45"/><path d="M191.5,284.2L198.2,285.0L203.1,285.8L209.8,286.7L211.5,290.8L214.8,292.5L213.9,296.3L209.8,300.0L207.3,304.1L203.1,304.9L199.8,303.3L194.8,300.8L191.5,299.6L193.2,296.6L191.5,292.5L191.5,289.1Z" fill="#f9c96c"/><path d="M201.8,301.3L204.8,300.6L205.8,303.3L203.1,304.3Z" fill="#1f7a45"/><path d="M178.8,303.3L181.6,300.5L186.6,300.5L190.8,302.5L191.6,307.2L190.1,311.6L189.0,315.5L189.6,318.8L187.9,322.2L189.0,324.9L190.7,328.3L192.3,330.5L191.8,333.8L190.1,337.7L187.9,339.3L185.7,341.6L185.1,345.4L185.7,349.3L184.0,352.6L181.2,355.1L177.7,355.8L174.4,355.4L171.4,354.3L169.5,350.4L170.2,346.9L173.3,344.7L176.6,345.2L178.8,343.6L180.5,340.2L182.7,338.6L184.1,336.0L183.0,332.7L180.2,331.0L179.1,328.3L176.4,327.7L175.3,324.9L176.4,321.6L178.0,318.8L180.8,317.7L182.5,315.0L181.4,311.6L179.7,308.3Z" fill="#f9c96c"/><path d="M207.3,345.7L213.1,344.0L218.1,344.8L221.4,347.3L218.1,350.7L214.8,354.0L209.8,353.2L206.5,349.8Z" fill="#f9c96c"/></g>
<use href="#o-nl" fill="#1f7a45"/><g clip-path="url(#c-nl)"><path d="M164.9,304.9L169.1,302.4L173.2,304.9L172.4,309.1L174.9,311.6L178.2,310.8L180.7,311.6L180.7,319.9L176.5,319.9L174.0,318.2L173.2,314.9L170.7,313.3L168.6,311.6L166.2,310.3Z" fill="#f9c96c"/><path d="M149.1,326.6L153.3,325.2L155.8,327.4L154.6,330.2L149.9,330.2Z" fill="#f9c96c"/></g>
<use href="#o-be" fill="#1f7a45"/><g clip-path="url(#c-be)"><path d="M140.0,336.2L147.4,337.4L151.6,338.5L155.8,339.4L158.3,341.0L162.4,340.2L166.6,339.4L169.9,338.5L176.5,337.4L176.5,359.8L140.0,359.8Z" fill="#f2953a"/><path d="M161.9,333.5L166.2,332.9L167.2,337.4L163.2,338.9Z" fill="#f9c96c"/><path d="M167.1,350.7L168.6,347.0L170.9,347.8L172.7,350.7L171.9,354.3L169.2,355.3L166.6,353.5Z" fill="#1f7a45"/></g>
<use href="#o-se" fill="#1f7a45"/>
<use href="#o-fi" fill="#f9c96c"/><g clip-path="url(#c-fi)"><path d="M273.5,199.4L282.2,198.6L289.5,197.1L296.7,192.7L302.6,186.9L308.4,185.5L314.2,186.9L321.5,181.1L327.3,176.7L334.6,168.0L341.8,176.7L325.8,197.1L306.9,210.2L289.5,223.3L270.6,223.3L264.7,205.8Z" fill="#1f7a45"/></g>
<use href="#o-dk" fill="#1f7a45"/><g clip-path="url(#c-dk)"><path d="M209.9,274.5L214.9,271.8L218.2,274.3L220.9,277.3L220.7,282.3L219.0,289.8L209.9,289.8Z" fill="#f9c96c"/></g>
<use href="#o-ee" fill="#ff0000"/>
<use href="#o-lv" fill="#ff0000"/>
<use href="#o-lt" fill="#ff0000"/>
<use href="#o-pl" fill="#ff0000"/>
<use href="#o-hu" fill="#ff0000"/><g clip-path="url(#c-hu)"><path d="M279.9,372.3L283.2,373.1L287.3,375.6L291.5,379.8L292.3,383.1L288.2,383.9L283.2,383.9L281.5,379.8L280.2,375.6Z" fill="#f9c96c"/></g>
<use href="#o-cz" fill="#ff0000"/><g clip-path="url(#c-cz)"><path d="M231.8,348.1L234.9,345.0L239.3,342.5L243.7,341.2L245.5,343.7L247.4,346.8L248.7,349.9L246.2,353.1L242.4,354.3L238.7,354.9L234.9,354.3L233.7,351.2Z" fill="#f2953a"/><path d="M238.7,346.8L241.2,346.4L241.8,348.7L239.3,349.3Z" fill="#1f7a45"/></g>
<use href="#o-sk" fill="#ff0000"/><g clip-path="url(#c-sk)"><path d="M261.6,365.6L266.6,365.1L268.2,369.0L266.9,372.6L263.6,374.0L261.6,371.5Z" fill="#1f7a45"/></g>
<use href="#o-at" fill="#1f7a45"/><g clip-path="url(#c-at)"><path d="M241.2,373.9L243.9,371.1L245.2,367.4L246.4,363.0L249.9,361.9L253.6,362.5L257.4,363.8L261.1,365.0L264.1,366.5L264.9,369.3L264.1,373.0L261.7,374.3L259.9,376.1L258.0,378.6L256.1,380.5L253.0,378.6L249.9,378.0L246.2,378.0L243.0,376.1Z" fill="#f9c96c"/><path d="M257.1,370.1L259.6,369.9L259.9,372.1L257.4,372.4Z" fill="#1f7a45"/><path d="M259.9,376.1L261.7,374.3L263.9,372.8L265.5,374.3L264.1,377.0L262.1,378.9L261.5,381.7L260.2,384.9L259.0,387.8L256.6,387.1L257.4,383.0L258.4,379.9Z" fill="#f2953a"/></g>
<use href="#o-si" fill="#1f7a45"/><g clip-path="url(#c-si)"><path d="M233.8,398.5L235.9,395.9L239.5,394.6L243.7,395.1L247.3,397.2L249.4,400.6L247.6,403.5L245.3,404.5L242.7,404.0L240.8,404.5L240.3,407.5L238.0,409.2L236.2,407.5L236.7,404.7L235.2,402.1Z" fill="#f9c96c"/></g>
<use href="#o-hr" fill="#ff0000"/>
<use href="#o-it" fill="#1f7a45"/><g clip-path="url(#c-it)"><path d="M224.0,430.6L228.5,428.4L233.0,430.2L237.0,433.8L239.9,438.7L240.6,442.3L236.6,444.1L233.0,445.9L230.3,448.6L226.7,449.5L224.0,446.8L221.3,443.2L222.2,437.8L223.1,434.2Z" fill="#f9c96c"/><path d="M233.0,445.9L236.6,444.1L240.6,442.0L242.9,442.9L246.5,446.5L250.1,450.1L252.8,453.1L254.6,454.9L252.8,458.5L250.1,461.2L246.5,462.1L242.9,460.3L241.1,457.6L238.4,455.8L234.8,454.0L232.7,451.3Z" fill="#f2953a"/><path d="M240.6,463.0L242.9,460.3L246.5,462.1L250.1,461.2L252.8,458.5L254.6,454.0L263.6,452.2L296.0,468.4L296.0,540.4L224.0,540.4L224.0,504.4L245.6,475.6Z" fill="#ff0000"/><path d="M256.4,467.5L260.0,464.8L264.5,465.7L268.1,469.3L270.8,472.9L269.9,476.5L268.1,479.2L264.5,480.1L260.9,480.1L258.2,476.5L256.8,472.0Z" fill="#f2953a"/><path d="M180.8,463.9L202.4,463.9L202.4,497.2L180.8,497.2Z" fill="#f2953a"/></g>
<use href="#o-ro" fill="#ff0000"/>
<use href="#o-bg" fill="#ff0000"/>
<use href="#o-gr" fill="#f2953a"/><g clip-path="url(#c-gr)"><path d="M339.5,454.1L342.4,450.2L368.5,445.8L368.5,456.0L343.8,457.5Z" fill="#ff0000"/><path d="M304.5,474.9L310.4,471.0L312.7,469.5L314.1,471.3L315.6,474.2L317.6,477.8L319.1,481.5L320.8,483.6L321.7,486.5L324.2,488.7L327.1,490.2L328.1,492.4L325.6,494.1L322.7,495.0L319.8,496.7L311.8,488.0L304.5,482.2Z" fill="#ff0000"/><path d="M320.8,483.6L324.2,483.6L327.8,482.9L331.5,482.2L335.1,482.9L338.7,482.5L342.4,484.4L346.0,485.8L349.6,487.3L352.5,489.5L355.5,491.6L356.9,493.5L353.3,493.4L349.6,491.6L346.0,490.9L343.1,492.4L339.5,493.5L335.1,493.5L331.5,492.7L328.1,491.9L327.1,489.7L324.2,488.3L321.7,486.3Z" fill="#f9c96c"/><path d="M340.9,494.8L343.8,493.1L346.7,491.2L349.9,491.6L351.4,494.5L352.3,497.9L350.4,499.3L348.2,497.0L346.0,496.3L343.8,497.7L341.2,497.0Z" fill="#1f7a45"/><path d="M319.1,493.8L348.2,493.8L348.2,521.5L319.1,521.5Z" fill="#ff0000"/><path d="M300.2,476.4L307.5,476.4L307.5,483.6L319.1,492.4L319.1,505.5L310.4,505.5L310.4,492.4L300.2,483.6Z" fill="#f9c96c"/><path d="M351.8,480.7L355.5,480.7L355.5,484.4L351.8,484.4Z" fill="#f9c96c"/><path d="M351.1,525.1L383.1,525.1L383.1,534.5L351.1,534.5Z" fill="#f2953a"/><path d="M348.2,456.0L383.1,456.0L383.1,497.0L371.5,497.0L367.1,489.5L365.6,477.8L354.0,469.1L348.2,460.4Z" fill="#ff0000"/><path d="M354.0,493.5L371.5,497.5L383.1,497.5L400.5,504.0L400.5,524.4L341.6,524.4L341.6,518.1L347.0,517.4L354.0,502.5Z" fill="#1f7a45"/><path d="M340.9,494.8L343.8,493.1L346.7,491.2L349.9,491.6L351.4,494.5L352.3,497.9L350.4,499.3L348.2,497.0L346.0,496.3L343.8,497.7L341.2,497.0Z" fill="#1f7a45"/></g>
<use href="#o-cy" fill="#f9c96c"/>
<use href="#rlines"/><use href="#cout"/>
</g>
<g transform="translate(549.8,4.64) scale(0.987)">
<use href="#greys" fill="#ededed" stroke="#8c8c8c" stroke-width="0.55"/>
<use href="#whites" fill="#fff" stroke="#9a9a9a" stroke-width="0.5"/>
<path fill="none" stroke="#a8a8a8" stroke-width="0.5" d="M288.5,410.5L289.2,416.0L292.6,421.6L293.3,427.1L289.2,429.9L286.4,434.7L285.0,441.0L285.7,444.4M289.2,429.9L295.4,433.3L301.0,436.8L302.3,441.0L305.1,444.4L309.3,445.1L313.4,443.0L319.0,441.7L323.8,441.0M301.0,441.0L298.2,445.1L295.4,449.3L294.7,453.4M307.9,445.1L307.2,450.7L307.9,456.2L309.3,459.7L312.7,463.1M302.3,441.0L306.5,439.6L309.3,441.7L309.3,445.1M360.0,353.5L367.6,354.8L371.4,359.2L376.5,365.5L382.2,371.9L375.2,373.8L373.3,380.8L370.8,387.1M321.8,194.1L323.5,193.7L323.9,195.8L325.2,198.3L327.7,198.7L330.2,197.9L333.6,198.3L336.1,200.4L333.6,201.3L330.2,201.7L328.6,202.9L326.9,204.6L324.3,205.9L323.1,208.0L323.9,210.5"/>
<use href="#o-ie" fill="#f9c96c"/><g clip-path="url(#c-ie)"><path d="M50.2,289.3L53.7,290.1L55.2,291.6L57.1,292.4L59.4,292.7L61.3,294.3L63.2,295.8L65.5,296.6L67.7,297.3L68.5,295.8L68.5,292.7L68.9,289.7L69.7,286.7L70.8,285.1L73.1,284.2L75.0,285.5L79.2,286.3L82.2,314.8L33.5,314.8L33.5,295.8Z" fill="#1f7a45"/></g>
<use href="#o-gb" fill="#f9c96c"/><g clip-path="url(#c-gb)"><path d="M22.6,221.7L138.3,221.7L138.3,263.8L113.6,264.3L111.5,267.5L108.6,270.9L107.8,275.4L108.6,279.6L109.1,283.8L107.3,286.4L104.6,286.7L102.0,286.1L100.2,283.8L99.2,279.6L98.8,275.4L85.7,275.4L22.6,275.4Z" fill="#f2953a"/><path d="M109.1,283.8L109.9,283.3L118.8,283.8L121.5,284.3L123.4,286.4L124.4,289.0L121.5,290.3L118.5,291.7L118.1,294.8L115.2,295.6L112.0,295.1L109.4,294.9L108.6,292.7L109.1,290.1L107.6,288.0L107.3,286.4Z" fill="#f2953a"/><path d="M103.4,294.5L106.2,293.8L108.8,294.5L108.6,296.9L106.2,297.7L103.8,296.9Z" fill="#f2953a"/><path d="M108.8,279.6L110.9,278.3L114.6,278.5L117.3,280.4L119.4,283.5L116.2,284.0L112.0,284.0L109.4,283.5Z" fill="#ff0000"/><path d="M100.4,298.5L102.3,296.6L105.2,295.9L108.0,297.2L108.6,300.1L106.2,301.7L103.1,302.5L101.0,301.1Z" fill="#1f7a45"/><path d="M110.4,306.9L114.1,305.7L117.3,306.1L119.4,308.5L118.8,312.2L117.3,315.3L114.1,316.2L111.5,315.3L110.7,311.7Z" fill="#f2953a"/><path d="M97.3,312.2L100.4,310.6L104.6,310.1L108.8,310.6L111.5,312.2L111.5,315.3L108.8,316.9L105.7,316.4L102.5,316.9L99.9,317.4L97.5,315.9Z" fill="#f2953a"/><path d="M119.4,309.0L122.5,308.5L125.7,306.9L129.9,305.9L134.1,306.9L137.3,310.1L137.3,314.3L135.7,318.2L132.8,320.4L129.4,319.2L126.7,318.2L123.6,317.7L120.9,315.6L119.4,312.4Z" fill="#f2953a"/><path d="M96.7,322.2L98.8,319.0L101.5,316.4L105.7,316.2L108.8,316.7L111.5,315.3L114.1,316.2L117.3,315.1L119.4,314.3L121.5,316.4L122.0,320.6L121.5,322.7L122.0,325.3L123.6,328.0L126.2,332.2L125.2,335.3L121.5,335.9L117.3,335.3L113.1,335.9L108.8,335.3L105.7,332.7L104.1,329.0L102.0,326.9L99.4,325.3Z" fill="#1f7a45"/><path d="M103.7,248.8L108.7,245.5L113.8,242.1L118.0,240.1L120.9,243.0L118.8,248.8L114.6,252.9L111.3,250.5L107.9,250.2Z" fill="#1f7a45"/><path d="M78.4,312.0L83.5,310.3L87.7,308.6L91.0,306.1L92.2,302.7L90.5,299.4L86.8,297.3L89.4,293.5L92.7,295.2L96.9,296.0L98.6,297.7L98.3,301.1L96.1,304.4L94.4,307.8L93.6,312.0L94.4,315.4L96.6,317.0L96.6,319.9L92.7,319.2L88.5,318.4L84.3,316.5L79.3,315.4Z" fill="#ff0000"/><path d="M116.7,322.7L120.4,321.9L122.3,323.8L121.5,326.1L118.5,326.7L116.7,325.0Z" fill="#e8e8e8"/></g>
<use href="#o-es" fill="#ff0000"/><g clip-path="url(#c-es)"><path d="M14.0,409.5L38.5,409.5L77.8,422.8L76.4,427.6L75.6,432.5L74.1,437.7L74.9,442.9L79.3,445.1L84.5,447.3L85.3,451.0L82.3,454.7L81.6,457.7L76.4,456.2L70.4,455.2L66.7,455.8L63.0,459.2L57.8,462.9L54.8,465.9L49.6,465.9L46.7,466.6L43.7,462.9L38.5,459.2L32.1,460.7L33.0,454.0L34.8,449.5L38.5,446.6L41.5,443.6L38.1,439.9L35.5,437.7L28.9,437.4L23.7,436.2L21.5,433.2L14.0,434.4Z" fill="#f9c96c"/><path d="M16.7,434.0L21.5,433.2L23.7,436.2L28.9,437.4L34.1,438.4L38.1,439.9L41.5,443.6L38.5,446.6L34.8,449.5L33.0,454.0L32.1,459.9L14.0,459.9Z" fill="#ff0000"/><path d="M74.1,437.7L77.1,436.2L80.1,438.4L83.0,440.6L86.0,443.6L88.2,445.8L89.7,442.9L91.9,439.2L95.7,436.9L97.1,434.0L103.1,437.7L109.0,439.9L112.0,439.4L110.8,443.6L109.8,449.5L107.5,455.5L105.3,459.9L104.3,464.4L103.1,467.4L100.1,466.6L97.9,468.8L95.7,471.8L92.7,474.8L91.2,476.3L88.2,473.3L85.3,470.3L83.8,465.9L86.0,461.4L83.8,457.7L81.6,457.7L82.3,454.7L85.3,451.0L84.5,447.3L79.3,445.1L74.9,442.9Z" fill="#f2953a"/><path d="M73.4,428.0L76.4,426.1L80.1,425.1L85.3,428.0L90.5,428.8L97.9,433.5L95.7,436.9L91.9,439.2L89.7,442.9L88.2,445.8L86.0,443.6L83.0,440.6L80.1,438.4L77.1,436.2L74.9,432.5Z" fill="#1f7a45"/><path d="M112.0,438.9L113.5,438.4L117.9,441.4L122.4,443.6L140.2,444.3L140.2,452.5L109.0,470.0L106.0,470.3L103.1,467.4L104.3,464.4L105.3,459.9L107.5,455.5L109.8,449.5L110.8,443.6Z" fill="#1f7a45"/><path d="M55.3,465.1L57.8,462.9L63.0,459.2L66.7,455.2L68.2,459.9L67.5,464.4L68.9,468.1L68.6,470.3L64.5,469.6L61.5,471.5L60.0,468.1Z" fill="#1f7a45"/><path d="M103.1,467.4L106.0,470.3L103.1,473.3L103.1,495.5L94.2,498.5L91.2,503.0L88.2,506.2L86.7,503.0L86.0,497.0L87.9,491.1L85.3,486.6L84.5,481.4L86.7,477.7L89.7,475.5L92.7,474.8L95.7,471.8L97.9,468.8L100.1,466.6Z" fill="#f9c96c"/><path d="M-1.6,470.0L3.6,468.4L8.1,469.4L10.2,473.0L10.5,476.3L7.5,478.6L2.9,479.4L-1.6,478.3Z" fill="#1f7a45"/><path d="M-0.8,493.3L3.6,491.8L9.6,492.6L15.8,494.1L16.7,500.0L-0.8,500.7Z" fill="#f9c96c"/><path d="M109.0,474.8L147.6,474.8L147.6,497.0L109.0,497.0Z" fill="#f2953a"/></g>
<use href="#o-fr" fill="#f9c96c"/><g clip-path="url(#c-fr)"><path d="M118.9,348.3L124.8,346.3L129.7,345.4L131.6,351.2L129.7,357.1L125.8,361.1L121.8,359.1L118.9,354.2Z" fill="#f2953a"/><path d="M91.4,374.8L97.3,371.9L105.1,368.9L109.1,365.0L115.9,364.0L120.8,367.9L118.9,373.8L115.0,378.7L109.1,381.7L106.1,386.6L105.1,390.5L100.2,388.6L95.3,384.6L93.4,378.7Z" fill="#f2953a"/><path d="M129.7,359.1L134.6,356.7L141.5,358.7L146.0,362.0L144.8,367.0L140.9,370.9L136.2,368.9L131.6,367.0L129.3,363.0Z" fill="#1f7a45"/><path d="M146.4,359.1L151.3,353.2L155.2,348.3L159.1,351.2L160.1,356.2L159.1,362.0L161.1,367.9L165.0,373.8L163.1,378.7L158.2,376.8L153.2,373.8L148.3,370.9L145.4,366.0Z" fill="#f2953a"/><path d="M176.8,362.0L182.7,361.1L186.6,364.0L183.7,370.9L180.7,378.7L177.8,382.7L175.8,377.8L177.8,371.9L177.8,366.0Z" fill="#f2953a"/><path d="M93.4,403.3L102.2,406.2L108.1,407.2L115.9,402.3L119.9,405.2L122.8,410.1L129.7,412.1L135.6,416.0L138.5,421.9L135.6,427.8L128.7,431.7L123.8,435.7L122.8,444.5L116.9,443.5L111.0,441.6L106.1,440.6L101.2,438.6L97.3,436.7L91.4,433.7Z" fill="#f2953a"/><path d="M145.4,401.3L150.3,398.4L156.2,395.4L161.1,397.4L167.0,398.4L171.9,396.4L177.8,400.3L177.8,408.2L174.8,409.2L172.9,413.1L167.0,415.1L163.1,419.0L160.1,423.9L155.2,421.9L149.3,420.9L146.4,417.0L149.3,412.1L148.3,407.2L145.4,405.2Z" fill="#1f7a45"/><path d="M151.3,430.8L155.2,426.8L160.1,423.9L163.1,419.0L167.0,415.1L172.9,413.1L174.8,409.2L185.6,407.2L185.6,423.9L181.7,429.8L177.8,432.7L172.9,435.7L168.0,439.6L162.1,438.6L156.2,436.7Z" fill="#f2953a"/><path d="M185.6,439.6L203.3,439.6L203.3,467.1L185.6,467.1Z" fill="#f9c96c"/></g>
<use href="#o-de" fill="#1f7a45"/><g clip-path="url(#c-de)"><path d="M190.7,299.2L194.9,297.5L201.6,302.6L205.0,304.3L209.2,303.4L211.7,299.2L215.1,295.8L221.8,293.3L228.6,289.1L235.3,285.7L243.7,295.8L247.1,329.5L243.7,337.1L233.6,341.0L228.6,343.5L224.4,346.0L221.0,343.8L216.8,343.0L213.4,343.8L209.2,343.0L205.8,340.5L203.7,336.3L204.7,332.0L208.7,329.5L210.9,326.2L210.1,320.3L209.2,315.2L206.7,312.7L203.3,311.8L199.1,310.1L194.9,307.6L191.5,304.3Z" fill="#f9c96c"/><path d="M192.4,284.0L199.9,284.0L205.0,284.9L211.7,285.7L213.4,289.9L210.1,294.1L208.4,299.2L205.8,304.3L202.5,301.7L198.3,300.9L194.9,297.5L193.2,292.5Z" fill="#f2953a"/><path d="M221.0,329.5L225.2,327.8L228.6,329.5L227.7,333.7L223.5,335.4L220.5,332.9Z" fill="#f2953a"/><path d="M229.4,332.0L235.3,329.5L242.1,328.7L244.6,332.9L242.1,337.1L235.3,337.9L231.1,338.8L228.9,335.4Z" fill="#f2953a"/><path d="M227.4,314.4L230.6,313.9L231.6,316.4L230.3,318.2L227.7,317.7Z" fill="#1f7a45"/><path d="M170.5,345.5L174.7,344.3L178.1,346.4L178.9,350.6L177.2,354.4L173.8,355.1L171.3,353.1Z" fill="#f2953a"/><path d="M172.7,355.6L176.4,354.4L180.1,355.6L179.7,359.5L175.5,360.7L172.7,359.0Z" fill="#e8e8e8"/></g>
<use href="#o-nl" fill="#1f7a45"/><g clip-path="url(#c-nl)"><path d="M165.9,305.1L170.0,303.4L173.3,305.6L176.4,308.0L179.4,310.1L178.9,314.0L174.7,314.7L172.2,311.8L168.8,311.8L166.3,309.6Z" fill="#f2953a"/><path d="M163.9,311.3L167.6,311.0L167.9,318.1L164.9,318.7Z" fill="#f0e0d0"/><path d="M148.6,324.8L153.6,324.1L155.8,327.0L154.5,330.4L149.4,330.9Z" fill="#f2953a"/></g>
<use href="#o-be" fill="#1f7a45"/><g clip-path="url(#c-be)"><path d="M140.2,336.6L148.6,336.3L152.8,337.9L157.0,338.3L160.4,338.8L163.7,339.3L167.9,337.9L171.3,337.9L178.1,337.1L178.1,359.8L140.2,359.8Z" fill="#f9c96c"/><path d="M162.1,332.9L166.3,332.0L167.6,337.1L163.7,338.8Z" fill="#f2953a"/><path d="M166.3,350.6L167.9,346.4L170.5,346.0L171.7,350.6L171.0,354.3L168.3,355.3L165.9,353.4Z" fill="#1f7a45"/></g>
<use href="#o-se" fill="#f2953a"/><g clip-path="url(#c-se)"><path d="M205.5,65.3L296.9,65.3L296.9,153.7L249.7,191.2L245.3,186.8L236.5,186.8L230.6,195.6L224.7,191.2L217.3,189.7L205.5,183.2Z" fill="#1f7a45"/><path d="M250.6,206.4L255.6,204.7L259.9,207.2L265.8,212.3L267.4,218.1L264.1,224.9L260.7,229.1L257.3,232.5L254.0,236.3L249.8,240.0L245.5,241.7L243.0,245.1L239.6,246.8L238.0,242.6L233.8,240.9L234.6,235.8L232.1,229.9L232.1,223.2L232.9,217.3L238.0,215.6L242.2,214.8L248.1,211.4Z" fill="#1f7a45"/><path d="M210.2,228.3L215.2,228.3L221.1,229.9L224.5,234.1L227.0,230.8L231.7,229.1L234.6,235.8L233.8,240.9L229.5,243.4L228.7,248.5L227.9,254.4L225.3,256.0L226.2,259.4L227.0,263.6L226.2,265.3L222.0,261.9L218.6,255.2L215.2,247.6L212.7,240.0L211.0,233.3Z" fill="#1f7a45"/></g>
<use href="#o-fi" fill="#f2953a"/><g clip-path="url(#c-fi)"><path d="M288.1,209.7L293.9,203.0L301.3,199.4L308.7,196.5L313.1,199.4L307.2,205.3L298.4,209.7L292.5,213.3Z" fill="#1f7a45"/><path d="M264.5,207.4L271.8,207.4L271.8,213.3L264.5,213.3Z" fill="#1f7a45"/></g>
<use href="#o-dk" fill="#1f7a45"/><g clip-path="url(#c-dk)"><path d="M209.9,274.5L214.9,271.8L218.2,274.3L220.9,277.3L220.7,282.3L219.0,289.8L209.9,289.8Z" fill="#f9c96c"/></g>
<use href="#o-ee" fill="#f9c96c"/>
<use href="#o-lv" fill="#ff0000"/>
<use href="#o-lt" fill="#f9c96c"/>
<use href="#o-pl" fill="#ff0000"/><g clip-path="url(#c-pl)"><path d="M277.3,308.0L283.2,303.1L291.0,298.2L295.0,300.2L297.9,305.1L302.8,309.0L306.8,311.9L302.8,315.9L298.9,318.8L297.9,323.7L298.9,327.7L294.0,328.7L289.1,326.7L288.1,320.8L284.2,315.9L278.7,313.9Z" fill="#1f7a45"/><path d="M243.9,330.0L250.7,325.7L256.6,324.7L262.5,327.7L265.5,332.6L264.1,338.5L258.6,342.4L250.7,342.4L245.8,335.5Z" fill="#f9c96c"/></g>
<use href="#o-hu" fill="#ff0000"/><g clip-path="url(#c-hu)"><path d="M279.5,371.3L282.1,373.2L286.5,375.1L290.3,377.6L292.8,381.4L292.2,384.0L287.8,383.3L284.0,384.0L282.1,381.4L280.8,377.6Z" fill="#1f7a45"/></g>
<use href="#o-cz" fill="#f9c96c"/><g clip-path="url(#c-cz)"><path d="M220.8,346.7L228.4,340.4L234.7,336.6L239.1,333.4L242.9,331.5L246.1,333.2L249.9,335.1L253.6,337.2L257.4,341.0L260.6,344.8L260.6,352.6L256.2,351.6L252.4,349.8L249.5,347.6L247.6,344.5L245.1,341.6L242.3,341.0L238.5,342.5L234.7,344.4L230.9,346.9L227.1,349.5L223.3,351.1Z" fill="#ff0000"/><path d="M259.7,342.3L278.9,342.3L278.9,367.5L268.2,367.5L267.5,361.8L263.1,358.1L259.6,353.6Z" fill="#ff0000"/><path d="M238.5,346.8L241.5,346.4L241.9,349.0L238.9,349.3Z" fill="#1f7a45"/></g>
<use href="#o-sk" fill="#ff0000"/><g clip-path="url(#c-sk)"><path d="M262.5,366.3L265.6,365.3L268.2,368.2L267.5,371.3L265.6,373.6L263.5,371.6Z" fill="#1f7a45"/></g>
<use href="#o-at" fill="#1f7a45"/><g clip-path="url(#c-at)"><path d="M242.0,373.2L245.1,371.1L246.3,367.5L248.0,363.5L252.4,362.2L256.2,362.9L260.0,364.1L263.8,365.4L265.6,367.5L264.4,374.5L262.5,376.4L260.6,378.9L258.7,380.8L255.5,379.2L252.4,378.3L248.6,378.3L244.8,376.4Z" fill="#f2953a"/><path d="M256.8,369.8L259.7,369.4L260.1,372.1L257.2,372.5Z" fill="#1f7a45"/><path d="M259.0,379.2L261.5,376.1L264.4,374.1L267.0,372.8L268.6,374.5L267.0,377.3L265.5,379.4L264.8,382.3L263.5,385.5L262.0,388.5L256.9,387.7L257.7,383.3L258.4,380.4Z" fill="#f9c96c"/></g>
<use href="#o-si" fill="#f2953a"/>
<use href="#o-hr" fill="#ff0000"/>
<use href="#o-it" fill="#1f7a45"/><g clip-path="url(#c-it)"><path d="M169.6,389.6L189.7,389.6L188.8,407.9L190.6,413.3L195.1,417.9L198.8,420.6L203.4,422.5L207.0,427.9L204.3,432.5L201.5,428.8L197.0,425.2L191.5,424.3L186.0,426.1L171.4,437.1Z" fill="#f2953a"/><path d="M204.3,432.5L207.0,427.9L210.6,426.1L215.2,427.9L219.8,429.8L223.4,432.5L224.3,436.1L222.5,440.7L220.7,445.3L217.9,448.9L215.2,450.7L211.6,447.1L208.8,442.5L206.1,437.1Z" fill="#f2953a"/><path d="M225.2,430.7L229.8,427.9L235.3,430.7L239.8,434.9L242.6,439.8L239.8,443.4L236.2,444.3L233.5,441.6L229.8,437.1L226.2,434.3Z" fill="#f2953a"/><path d="M223.4,435.2L226.2,434.3L229.8,437.1L233.5,441.6L235.3,445.3L232.5,448.4L228.9,450.2L225.2,448.4L221.6,446.2L221.0,441.6Z" fill="#f9c96c"/><path d="M235.3,445.3L239.8,443.4L242.9,442.9L245.7,444.0L249.3,447.6L253.0,451.3L254.4,455.3L252.1,459.3L249.0,462.0L245.3,462.0L243.5,459.3L240.7,457.5L237.1,455.7L233.5,452.9L232.5,448.4Z" fill="#f9c96c"/><path d="M224.3,398.7L237.1,398.7L237.1,407.0L231.6,408.8L228.0,406.0Z" fill="#f2953a"/><path d="M241.7,464.8L245.3,462.0L249.0,462.0L252.1,459.3L254.4,455.3L257.2,453.5L266.3,452.6L299.1,469.9L299.1,542.9L226.2,542.9L226.2,506.4L248.0,477.2Z" fill="#ff0000"/><path d="M182.4,465.3L204.3,465.3L204.3,499.1L182.4,499.1Z" fill="#ff0000"/></g>
<use href="#o-ro" fill="#ff0000"/><g clip-path="url(#c-ro)"><path d="M351.2,402.6L355.2,401.9L356.0,408.1L351.6,408.9Z" fill="#1f7a45"/></g>
<use href="#o-bg" fill="#ff0000"/><g clip-path="url(#c-bg)"><path d="M323.2,430.5L329.0,428.2L334.9,429.2L339.9,432.1L341.8,434.1L338.9,438.0L338.9,443.9L340.8,447.8L336.9,451.8L332.0,453.3L329.6,448.2L326.5,442.3L323.7,437.4Z" fill="#f9c96c"/></g>
<use href="#o-gr" fill="#ff0000"/><g clip-path="url(#c-gr)"><path d="M352.8,492.1L370.5,496.5L382.3,497.3L399.9,501.0L399.9,524.5L340.3,524.5L340.3,518.6L345.7,517.9L352.8,502.4Z" fill="#f9c96c"/><path d="M341.0,493.9L344.7,492.4L347.6,490.9L349.8,492.9L351.0,496.5L351.6,498.8L349.8,498.0L347.6,496.2L344.7,495.8L341.7,496.5Z" fill="#f2953a"/><path d="M349.8,525.3L383.7,525.3L383.7,534.9L349.8,534.9Z" fill="#ff0000"/></g>
<use href="#o-cy" fill="#f9c96c"/>
<use href="#rlines"/><use href="#cout"/>
</g>
<g transform="translate(0,0)">
<rect x="337.3" y="46.9" width="65.2" height="64.8" rx="2.5" fill="#cfe3f0" stroke="#8d9aa6" stroke-width="0.8"/>
<rect x="409.1" y="46.9" width="65.2" height="64.8" rx="2.5" fill="#cfe3f0" stroke="#8d9aa6" stroke-width="0.8"/>
<rect x="337.3" y="124.2" width="65.2" height="64.8" rx="2.5" fill="#cfe3f0" stroke="#8d9aa6" stroke-width="0.8"/>
<rect x="409.1" y="124.2" width="65.2" height="64.8" rx="2.5" fill="#cfe3f0" stroke="#8d9aa6" stroke-width="0.8"/>
<rect x="337.3" y="204.3" width="65.2" height="64.8" rx="2.5" fill="#cfe3f0" stroke="#8d9aa6" stroke-width="0.8"/>
<rect x="408.3" y="204.3" width="65.2" height="64.8" rx="2.5" fill="#cfe3f0" stroke="#8d9aa6" stroke-width="0.8"/>
<rect x="337.3" y="283.2" width="65.2" height="64.8" rx="2.5" fill="#cfe3f0" stroke="#8d9aa6" stroke-width="0.8"/>
<rect x="409.1" y="283.2" width="65.2" height="64.8" rx="2.5" fill="#cfe3f0" stroke="#8d9aa6" stroke-width="0.8"/>
<clipPath id="gb0"><rect x="337.3" y="124.2" width="65.2" height="64.8" rx="2.5"/></clipPath>
<g clip-path="url(#gb0)"><path d="M337.8,138.6L343.3,137.5L356.6,139.1L386.5,156.3L391.6,157.0L396.5,168.5L400.5,180.7L402.2,188.9L337.8,188.9Z" fill="#d2d2d2" stroke="#777" stroke-width="0.5"/><polyline points="338.2,177.8 347.7,178.5 356.6,181.8" fill="none" stroke="#777" stroke-width="0.5"/></g>
<path d="M339.5,219.4L353.3,219.4L353.3,233.1L339.5,233.1ZM373.4,243.3L400.5,243.3L400.5,267.7L373.4,267.7Z" fill="none" stroke="#555" stroke-width="0.5"/>
<path d="M351.5,80.3L354.8,79.4L359.9,81.7L362.8,85.4L365.5,85.9L365.5,88.8L363.7,93.2L362.8,99.4L359.9,104.3L354.8,106.0L352.2,100.9L349.5,93.2L349.5,85.4ZM366.6,73.2L371.0,71.0L374.3,72.8L375.4,78.8L383.9,84.3L378.8,87.0L371.0,89.2L365.9,88.3L365.5,84.3L367.7,79.9ZM378.3,106.0L382.1,103.2L386.5,105.4L386.5,109.1L383.2,111.4L379.2,109.8Z" fill="#ff0000"/>
<path d="M422.6,75.5L426.4,73.2L431.9,73.7L438.6,76.6L444.1,81.0L448.6,79.4L449.2,82.1L445.2,83.2L444.8,86.5L447.5,93.2L453.0,98.7L454.8,103.2L453.7,107.6L450.8,109.1L448.6,105.4L444.1,103.2L439.7,102.0L437.5,104.9L434.2,103.2L433.0,99.8L436.4,98.1L439.0,95.4L434.2,92.1L429.7,89.9L426.4,84.3L424.2,79.9Z" fill="#ff0000"/>
<path d="M357.7,139.3L363.2,140.2L372.1,142.4L381.0,148.6L386.5,155.2L385.4,160.8L382.1,168.5L377.6,177.4L372.1,184.0L366.6,185.8L362.1,183.6L357.7,185.2L355.5,181.8L358.8,175.2L359.9,168.5L357.7,159.7L354.4,150.8L355.5,144.2Z" fill="#ff0000"/>
<path d="M416.4,153.0L422.0,145.3L431.9,140.2L445.2,141.9L454.1,146.4L459.6,155.2L464.7,161.9L464.5,167.4L462.3,177.4L447.5,180.7L436.4,176.3L425.3,170.7L420.9,161.9Z" fill="#ff0000"/>
<path d="M344.8,224.3L347.3,223.8L348.2,226.5L346.8,228.2L344.8,227.4ZM369.9,224.3L372.5,225.1L372.1,226.7L369.9,226.0ZM386.5,231.6L393.2,232.2L394.3,234.4L389.8,235.6L386.5,233.8ZM364.3,233.1L366.6,232.7L377.0,237.1L375.4,238.2L368.8,236.0ZM351.7,236.0L355.5,235.3L357.0,237.1L353.3,238.4ZM358.8,237.5L363.2,237.1L369.9,240.0L366.6,241.5L359.9,240.0ZM375.9,247.1L379.9,247.7L385.4,248.6L392.7,247.5L392.7,249.7L385.4,251.5L379.9,250.4L375.9,248.9ZM391.6,261.0L394.9,261.5L394.9,263.3L392.0,262.8Z" fill="#ff0000"/>
<path d="M424.0,233.8L428.6,229.3L433.0,230.5L438.6,233.8L448.6,232.2L454.1,235.3L460.7,238.2L454.1,245.5L445.2,244.9L435.3,242.2L427.5,238.2Z" fill="#f2953a" stroke="#7a5a30" stroke-width="0.4"/>
<path d="M343.7,310.2L346.0,309.1L347.3,311.3L345.5,313.6ZM342.2,321.8L345.5,320.9L343.7,323.1ZM351.3,316.4L353.9,317.3L352.2,318.7ZM356.1,315.3L361.0,313.6L365.0,312.5L363.2,315.8L361.0,318.4L357.7,318.0ZM368.1,318.7L371.0,316.9L373.9,318.7L373.2,321.8L369.4,321.8ZM383.6,318.0L386.5,315.8L388.7,311.3L392.0,306.9L395.4,305.1L395.8,307.6L392.5,310.2L390.3,314.7L387.2,317.5Z" fill="#f4b844" stroke="#7a5a30" stroke-width="0.4"/>
<path d="M419.1,304.3L425.7,303.1L433.0,305.8L436.8,308.7L433.0,310.2L425.3,309.6L419.8,308.0ZM437.0,314.7L440.4,313.1L443.0,316.9L448.6,317.5L457.4,322.4L464.5,327.5L464.1,334.2L458.5,335.1L449.7,333.5L443.0,330.6L438.1,325.7Z" fill="#f2953a" stroke="#7a5a30" stroke-width="0.4"/>
<text x="344.4" y="57.4" font-size="9" fill="#222" textLength="51" lengthAdjust="spacingAndGlyphs">Guadeloupe</text>
<text x="362.0" y="68.8" font-size="9" fill="#222" textLength="15.8" lengthAdjust="spacingAndGlyphs">(FR)</text>
<text x="418.7" y="57.4" font-size="9" fill="#222" textLength="46" lengthAdjust="spacingAndGlyphs">Martinique</text>
<text x="433.8" y="68.8" font-size="9" fill="#222" textLength="15.8" lengthAdjust="spacingAndGlyphs">(FR)</text>
<text x="345.2" y="134.7" font-size="9" fill="#222" textLength="49.5" lengthAdjust="spacingAndGlyphs">Guyane (FR)</text>
<text x="415.7" y="134.7" font-size="9" fill="#222" textLength="52" lengthAdjust="spacingAndGlyphs">Réunion (FR)</text>
<text x="346.9" y="214.8" font-size="9" fill="#222" textLength="46" lengthAdjust="spacingAndGlyphs">Acores (PT)</text>
<text x="414.7" y="214.8" font-size="9" fill="#222" textLength="52.5" lengthAdjust="spacingAndGlyphs">Madeira (PT)</text>
<text x="343.4" y="293.7" font-size="9" fill="#222" textLength="53" lengthAdjust="spacingAndGlyphs">Canarias (ES)</text>
<text x="430.7" y="293.7" font-size="9" fill="#222" textLength="22" lengthAdjust="spacingAndGlyphs">Malta</text>
</g>
<g transform="translate(549.3,-2.1)">
<rect x="337.3" y="46.9" width="65.2" height="64.8" rx="2.5" fill="#cfe3f0" stroke="#8d9aa6" stroke-width="0.8"/>
<rect x="409.1" y="46.9" width="65.2" height="64.8" rx="2.5" fill="#cfe3f0" stroke="#8d9aa6" stroke-width="0.8"/>
<rect x="337.3" y="124.2" width="65.2" height="64.8" rx="2.5" fill="#cfe3f0" stroke="#8d9aa6" stroke-width="0.8"/>
<rect x="409.1" y="124.2" width="65.2" height="64.8" rx="2.5" fill="#cfe3f0" stroke="#8d9aa6" stroke-width="0.8"/>
<rect x="337.3" y="204.3" width="65.2" height="64.8" rx="2.5" fill="#cfe3f0" stroke="#8d9aa6" stroke-width="0.8"/>
<rect x="408.3" y="204.3" width="65.2" height="64.8" rx="2.5" fill="#cfe3f0" stroke="#8d9aa6" stroke-width="0.8"/>
<rect x="337.3" y="283.2" width="65.2" height="64.8" rx="2.5" fill="#cfe3f0" stroke="#8d9aa6" stroke-width="0.8"/>
<rect x="409.1" y="283.2" width="65.2" height="64.8" rx="2.5" fill="#cfe3f0" stroke="#8d9aa6" stroke-width="0.8"/>
<clipPath id="gb549"><rect x="337.3" y="124.2" width="65.2" height="64.8" rx="2.5"/></clipPath>
<g clip-path="url(#gb549)"><path d="M337.8,138.6L343.3,137.5L356.6,139.1L386.5,156.3L391.6,157.0L396.5,168.5L400.5,180.7L402.2,188.9L337.8,188.9Z" fill="#d2d2d2" stroke="#777" stroke-width="0.5"/><polyline points="338.2,177.8 347.7,178.5 356.6,181.8" fill="none" stroke="#777" stroke-width="0.5"/></g>
<path d="M339.5,219.4L353.3,219.4L353.3,233.1L339.5,233.1ZM373.4,243.3L400.5,243.3L400.5,267.7L373.4,267.7Z" fill="none" stroke="#555" stroke-width="0.5"/>
<path d="M351.5,80.3L354.8,79.4L359.9,81.7L362.8,85.4L365.5,85.9L365.5,88.8L363.7,93.2L362.8,99.4L359.9,104.3L354.8,106.0L352.2,100.9L349.5,93.2L349.5,85.4ZM366.6,73.2L371.0,71.0L374.3,72.8L375.4,78.8L383.9,84.3L378.8,87.0L371.0,89.2L365.9,88.3L365.5,84.3L367.7,79.9ZM378.3,106.0L382.1,103.2L386.5,105.4L386.5,109.1L383.2,111.4L379.2,109.8Z" fill="#ff0000"/>
<path d="M422.6,75.5L426.4,73.2L431.9,73.7L438.6,76.6L444.1,81.0L448.6,79.4L449.2,82.1L445.2,83.2L444.8,86.5L447.5,93.2L453.0,98.7L454.8,103.2L453.7,107.6L450.8,109.1L448.6,105.4L444.1,103.2L439.7,102.0L437.5,104.9L434.2,103.2L433.0,99.8L436.4,98.1L439.0,95.4L434.2,92.1L429.7,89.9L426.4,84.3L424.2,79.9Z" fill="#f2953a" stroke="#7a5a30" stroke-width="0.4"/>
<path d="M357.7,139.3L363.2,140.2L372.1,142.4L381.0,148.6L386.5,155.2L385.4,160.8L382.1,168.5L377.6,177.4L372.1,184.0L366.6,185.8L362.1,183.6L357.7,185.2L355.5,181.8L358.8,175.2L359.9,168.5L357.7,159.7L354.4,150.8L355.5,144.2Z" fill="#ff0000"/>
<path d="M416.4,153.0L422.0,145.3L431.9,140.2L445.2,141.9L454.1,146.4L459.6,155.2L464.7,161.9L464.5,167.4L462.3,177.4L447.5,180.7L436.4,176.3L425.3,170.7L420.9,161.9Z" fill="#ff0000"/>
<path d="M344.8,224.3L347.3,223.8L348.2,226.5L346.8,228.2L344.8,227.4ZM369.9,224.3L372.5,225.1L372.1,226.7L369.9,226.0ZM386.5,231.6L393.2,232.2L394.3,234.4L389.8,235.6L386.5,233.8ZM364.3,233.1L366.6,232.7L377.0,237.1L375.4,238.2L368.8,236.0ZM351.7,236.0L355.5,235.3L357.0,237.1L353.3,238.4ZM358.8,237.5L363.2,237.1L369.9,240.0L366.6,241.5L359.9,240.0ZM375.9,247.1L379.9,247.7L385.4,248.6L392.7,247.5L392.7,249.7L385.4,251.5L379.9,250.4L375.9,248.9ZM391.6,261.0L394.9,261.5L394.9,263.3L392.0,262.8Z" fill="#ff0000"/>
<path d="M424.0,233.8L428.6,229.3L433.0,230.5L438.6,233.8L448.6,232.2L454.1,235.3L460.7,238.2L454.1,245.5L445.2,244.9L435.3,242.2L427.5,238.2Z" fill="#ff0000"/>
<path d="M343.7,310.2L346.0,309.1L347.3,311.3L345.5,313.6ZM342.2,321.8L345.5,320.9L343.7,323.1ZM351.3,316.4L353.9,317.3L352.2,318.7ZM356.1,315.3L361.0,313.6L365.0,312.5L363.2,315.8L361.0,318.4L357.7,318.0ZM368.1,318.7L371.0,316.9L373.9,318.7L373.2,321.8L369.4,321.8ZM383.6,318.0L386.5,315.8L388.7,311.3L392.0,306.9L395.4,305.1L395.8,307.6L392.5,310.2L390.3,314.7L387.2,317.5Z" fill="#f2953a" stroke="#7a5a30" stroke-width="0.4"/>
<path d="M419.1,304.3L425.7,303.1L433.0,305.8L436.8,308.7L433.0,310.2L425.3,309.6L419.8,308.0ZM437.0,314.7L440.4,313.1L443.0,316.9L448.6,317.5L457.4,322.4L464.5,327.5L464.1,334.2L458.5,335.1L449.7,333.5L443.0,330.6L438.1,325.7Z" fill="#f2953a" stroke="#7a5a30" stroke-width="0.4"/>
<text x="344.4" y="57.4" font-size="9" fill="#222" textLength="51" lengthAdjust="spacingAndGlyphs">Guadeloupe</text>
<text x="362.0" y="68.8" font-size="9" fill="#222" textLength="15.8" lengthAdjust="spacingAndGlyphs">(FR)</text>
<text x="418.7" y="57.4" font-size="9" fill="#222" textLength="46" lengthAdjust="spacingAndGlyphs">Martinique</text>
<text x="433.8" y="68.8" font-size="9" fill="#222" textLength="15.8" lengthAdjust="spacingAndGlyphs">(FR)</text>
<text x="345.2" y="134.7" font-size="9" fill="#222" textLength="49.5" lengthAdjust="spacingAndGlyphs">Guyane (FR)</text>
<text x="415.7" y="134.7" font-size="9" fill="#222" textLength="52" lengthAdjust="spacingAndGlyphs">Réunion (FR)</text>
<text x="346.9" y="214.8" font-size="9" fill="#222" textLength="46" lengthAdjust="spacingAndGlyphs">Acores (PT)</text>
<text x="414.7" y="214.8" font-size="9" fill="#222" textLength="52.5" lengthAdjust="spacingAndGlyphs">Madeira (PT)</text>
<text x="343.4" y="293.7" font-size="9" fill="#222" textLength="53" lengthAdjust="spacingAndGlyphs">Canarias (ES)</text>
<text x="430.7" y="293.7" font-size="9" fill="#222" textLength="22" lengthAdjust="spacingAndGlyphs">Malta</text>
</g>
<rect x="0" y="560.6" width="15.6" height="14.4" fill="#0c6836"/>
<text x="28.5" y="573.5" font-size="16.8" fill="#0c6836" text-anchor="start" textLength="59.2" lengthAdjust="spacingAndGlyphs">&gt; 105%</text>
<rect x="1007.8" y="560.6" width="16.2" height="14.4" fill="#0c6836"/>
<text x="933.0" y="573.5" font-size="16.8" fill="#0c6836" text-anchor="start" textLength="59.2" lengthAdjust="spacingAndGlyphs">&gt; 105%</text>
<rect x="0" y="586.6" width="15.6" height="14.4" fill="#ffcb66"/>
<text x="28.5" y="600.2" font-size="16.8" fill="#ffcb66" text-anchor="start" textLength="85.4" lengthAdjust="spacingAndGlyphs">91%-105%</text>
<rect x="1007.8" y="586.6" width="16.2" height="14.4" fill="#ffcb66"/>
<text x="906.8000000000001" y="600.2" font-size="16.8" fill="#ffcb66" text-anchor="start" textLength="85.4" lengthAdjust="spacingAndGlyphs">91%-105%</text>
<rect x="0" y="613.6" width="15.6" height="14.4" fill="#ff9933"/>
<text x="28.5" y="626.9" font-size="16.8" fill="#ff9933" text-anchor="start" textLength="74.8" lengthAdjust="spacingAndGlyphs">75%-90%</text>
<rect x="1007.8" y="613.6" width="16.2" height="14.4" fill="#ff9933"/>
<text x="917.4000000000001" y="626.9" font-size="16.8" fill="#ff9933" text-anchor="start" textLength="74.8" lengthAdjust="spacingAndGlyphs">75%-90%</text>
<rect x="0" y="641.3" width="15.6" height="14.4" fill="#ff0000"/>
<text x="28.5" y="654.6" font-size="16.8" fill="#ff0000" text-anchor="start" textLength="48.3" lengthAdjust="spacingAndGlyphs">&lt; 75%</text>
<rect x="1007.8" y="641.3" width="16.2" height="14.4" fill="#ff0000"/>
<text x="943.9000000000001" y="654.6" font-size="16.8" fill="#ff0000" text-anchor="start" textLength="48.3" lengthAdjust="spacingAndGlyphs">&lt; 75%</text>
<rect x="234.6" y="539.6" width="549" height="180.6" fill="none" stroke="#8c8c8c" stroke-width="1" stroke-dasharray="3,3"/>
<text x="318.6" y="564.4" font-size="19" fill="#1b4b87" text-anchor="start" textLength="382" lengthAdjust="spacingAndGlyphs">EU-28 regional population by GDP category</text>
<path d="M341.7,644.7L341.70,574.10A70.6,70.6 0 0 1 368.83,709.88Z" fill="#217a42"/><path d="M341.7,644.7L368.83,709.88A70.6,70.6 0 0 1 290.07,692.85Z" fill="#f5be3b"/><path d="M341.7,644.7L290.07,692.85A70.6,70.6 0 0 1 271.45,651.71Z" fill="#ee8c2b"/><path d="M341.7,644.7L271.45,651.71A70.6,70.6 0 0 1 341.70,574.10Z" fill="#e0101b"/>
<path d="M677.7,644.3L677.70,573.70A70.6,70.6 0 0 1 719.10,701.49Z" fill="#217a42"/><path d="M677.7,644.3L719.10,701.49A70.6,70.6 0 0 1 654.60,711.01Z" fill="#f5be3b"/><path d="M677.7,644.3L654.60,711.01A70.6,70.6 0 0 1 607.11,645.66Z" fill="#ee8c2b"/><path d="M677.7,644.3L607.11,645.66A70.6,70.6 0 0 1 677.70,573.70Z" fill="#e0101b"/>
<text x="291" y="617.2" font-size="18" fill="#fff" text-anchor="start" textLength="36.4" lengthAdjust="spacingAndGlyphs">27%</text>
<text x="365.5" y="637.7" font-size="18" fill="#fff" text-anchor="start" textLength="36.9" lengthAdjust="spacingAndGlyphs">44%</text>
<text x="275.8" y="669.3" font-size="18" fill="#fff" text-anchor="start" textLength="35.8" lengthAdjust="spacingAndGlyphs">11%</text>
<text x="317.4" y="703.6" font-size="18" fill="#fff" text-anchor="start" textLength="35.8" lengthAdjust="spacingAndGlyphs">19%</text>
<text x="625.3" y="616.9" font-size="18" fill="#fff" text-anchor="start" textLength="36.2" lengthAdjust="spacingAndGlyphs">25%</text>
<text x="699.5" y="637.3" font-size="18" fill="#fff" text-anchor="start" textLength="36.5" lengthAdjust="spacingAndGlyphs">40%</text>
<text x="623.5" y="678" font-size="18" fill="#fff" text-anchor="start" textLength="36.5" lengthAdjust="spacingAndGlyphs">20%</text>
<text x="670.3" y="703" font-size="18" fill="#fff" text-anchor="start" textLength="35.9" lengthAdjust="spacingAndGlyphs">15%</text>
<text transform="translate(261.5,665.8) rotate(-90)" font-size="18.5" fill="#1b4b87" textLength="42" lengthAdjust="spacingAndGlyphs">2004</text>
<text transform="translate(773.2,664.8) rotate(-90)" font-size="18.5" fill="#1b4b87" textLength="41" lengthAdjust="spacingAndGlyphs">2014</text>
<rect x="457.6" y="597.5" width="15.6" height="14.8" fill="#0c6836"/>
<text x="485.7" y="611.6" font-size="16.8" fill="#0c6836" text-anchor="start" textLength="58.7" lengthAdjust="spacingAndGlyphs">&gt; 105%</text>
<rect x="457.6" y="624.8" width="15.6" height="14.8" fill="#ffcb66"/>
<text x="485.7" y="637.3" font-size="16.8" fill="#ffcb66" text-anchor="start" textLength="85.1" lengthAdjust="spacingAndGlyphs">91%-105%</text>
<rect x="457.6" y="651.1" width="15.6" height="14.8" fill="#ff9933"/>
<text x="485.7" y="664.3" font-size="16.8" fill="#ff9933" text-anchor="start" textLength="74.9" lengthAdjust="spacingAndGlyphs">75%-90%</text>
<rect x="457.6" y="679" width="15.6" height="14.8" fill="#ff0000"/>
<text x="485.7" y="691.8" font-size="16.8" fill="#ff0000" text-anchor="start" textLength="48.5" lengthAdjust="spacingAndGlyphs">&lt; 75%</text>
</svg>
</body></html>
